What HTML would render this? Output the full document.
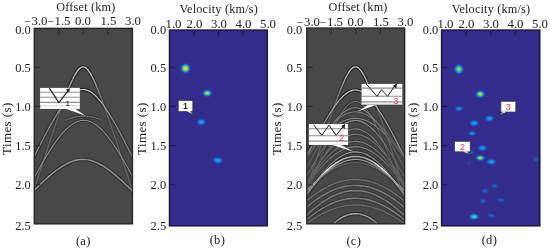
<!DOCTYPE html>
<html><head><meta charset="utf-8"><title>figure</title><style>html,body{margin:0;padding:0;background:#fff}svg{display:block}text{font-family:"Liberation Serif",serif}</style></head><body>
<svg width="550" height="249" viewBox="0 0 550 249">
<rect width="550" height="249" fill="#fff"/>
<defs>
<radialGradient id="gy"><stop offset="0" stop-color="#f8e41c" stop-opacity="1"/><stop offset="0.22" stop-color="#e8d030" stop-opacity="1"/><stop offset="0.42" stop-color="#48c890" stop-opacity="1"/><stop offset="0.62" stop-color="#1088d8" stop-opacity="0.9"/><stop offset="0.82" stop-color="#2050c0" stop-opacity="0.45"/><stop offset="1" stop-color="#332c8c" stop-opacity="0"/></radialGradient>
<radialGradient id="gy2"><stop offset="0" stop-color="#f4d820" stop-opacity="1"/><stop offset="0.16" stop-color="#e0cc38" stop-opacity="1"/><stop offset="0.36" stop-color="#40c098" stop-opacity="1"/><stop offset="0.58" stop-color="#1088d8" stop-opacity="0.9"/><stop offset="0.8" stop-color="#2050c0" stop-opacity="0.45"/><stop offset="1" stop-color="#332c8c" stop-opacity="0"/></radialGradient>
<radialGradient id="gg"><stop offset="0" stop-color="#b8c848" stop-opacity="1"/><stop offset="0.18" stop-color="#a0c858" stop-opacity="1"/><stop offset="0.38" stop-color="#38b8b0" stop-opacity="1"/><stop offset="0.58" stop-color="#1488e0" stop-opacity="0.9"/><stop offset="0.8" stop-color="#2050c0" stop-opacity="0.45"/><stop offset="1" stop-color="#332c8c" stop-opacity="0"/></radialGradient>
<radialGradient id="gy3"><stop offset="0" stop-color="#f8dc20" stop-opacity="1"/><stop offset="0.17" stop-color="#e4d034" stop-opacity="1"/><stop offset="0.34" stop-color="#50c088" stop-opacity="1"/><stop offset="0.52" stop-color="#1490e0" stop-opacity="0.95"/><stop offset="0.78" stop-color="#2058c8" stop-opacity="0.5"/><stop offset="1" stop-color="#332c8c" stop-opacity="0"/></radialGradient>
<radialGradient id="gn"><stop offset="0" stop-color="#58d8a0" stop-opacity="1"/><stop offset="0.2" stop-color="#40c8b8" stop-opacity="1"/><stop offset="0.42" stop-color="#18a0e0" stop-opacity="1"/><stop offset="0.65" stop-color="#1870d8" stop-opacity="0.8"/><stop offset="0.85" stop-color="#2848b8" stop-opacity="0.35"/><stop offset="1" stop-color="#332c8c" stop-opacity="0"/></radialGradient>
<radialGradient id="gc"><stop offset="0" stop-color="#18a8e8" stop-opacity="1"/><stop offset="0.3" stop-color="#1498e8" stop-opacity="1"/><stop offset="0.6" stop-color="#1470d8" stop-opacity="0.8"/><stop offset="0.85" stop-color="#2848b8" stop-opacity="0.35"/><stop offset="1" stop-color="#332c8c" stop-opacity="0"/></radialGradient>
<radialGradient id="gb"><stop offset="0" stop-color="#1878d8" stop-opacity="0.9"/><stop offset="0.5" stop-color="#2058c8" stop-opacity="0.6"/><stop offset="1" stop-color="#332c8c" stop-opacity="0"/></radialGradient>
<clipPath id="ca"><rect x="34.3" y="28.4" width="98.1" height="195.4"/></clipPath>
<clipPath id="cc"><rect x="306.8" y="28.1" width="97.8" height="195.7"/></clipPath>
<filter id="soft" x="-5%" y="-5%" width="110%" height="110%"><feGaussianBlur stdDeviation="0.35"/></filter>
</defs>
<rect x="34.3" y="28.4" width="98.1" height="195.4" fill="#484848"/>
<g clip-path="url(#ca)">
<g fill="none" filter="url(#soft)">
<path d="M33.1 192.9 L33.8 190.7 L34.5 188.5 L35.2 186.4 L35.9 184.2" stroke="rgb(63,63,63)" stroke-width="3.55"/>
<path d="M35.6 185.1 L36.3 182.9 L37.0 180.8 L37.8 178.6 L38.4 176.5" stroke="rgb(63,63,63)" stroke-width="3.55"/>
<path d="M38.1 177.4 L38.8 175.2 L39.5 173.1 L40.2 170.9 L40.9 168.7" stroke="rgb(63,63,63)" stroke-width="3.55"/>
<path d="M40.6 169.7 L41.3 167.5 L42.0 165.4 L42.8 163.2 L43.4 161.1" stroke="rgb(63,63,63)" stroke-width="3.55"/>
<path d="M43.1 162.0 L43.8 159.8 L44.5 157.7 L45.2 155.6 L45.9 153.4" stroke="rgb(63,63,63)" stroke-width="3.55"/>
<path d="M45.6 154.3 L46.3 152.2 L47.0 150.1 L47.8 148.0 L48.4 145.8" stroke="rgb(63,63,63)" stroke-width="3.55"/>
<path d="M48.1 146.7 L48.8 144.6 L49.5 142.5 L50.2 140.4 L50.9 138.3" stroke="rgb(63,63,63)" stroke-width="3.55"/>
<path d="M50.6 139.2 L51.3 137.1 L52.0 135.0 L52.8 132.9 L53.4 130.9" stroke="rgb(63,63,63)" stroke-width="3.55"/>
<path d="M53.1 131.7 L53.8 129.7 L54.5 127.6 L55.2 125.5 L55.9 123.5" stroke="rgb(63,63,63)" stroke-width="3.55"/>
<path d="M55.6 124.4 L56.3 122.3 L57.0 120.3 L57.8 118.2 L58.4 116.2" stroke="rgb(63,63,63)" stroke-width="3.55"/>
<path d="M58.1 117.1 L58.8 115.1 L59.5 113.1 L60.2 111.1 L60.9 109.1" stroke="rgb(63,63,63)" stroke-width="3.55"/>
<path d="M60.6 110.0 L61.3 108.0 L62.0 106.0 L62.8 104.1 L63.4 102.2" stroke="rgb(61,61,61)" stroke-width="3.55"/>
<path d="M63.1 103.0 L63.9 101.1 L64.5 99.2 L65.2 97.3 L66.0 95.5" stroke="rgb(57,57,57)" stroke-width="3.55"/>
<path d="M65.6 96.3 L66.3 94.4 L67.0 92.6 L67.8 90.8 L68.5 89.1" stroke="rgb(53,53,53)" stroke-width="3.55"/>
<path d="M68.1 89.8 L68.8 88.1 L69.5 86.4 L70.2 84.8 L71.0 83.1" stroke="rgb(48,48,48)" stroke-width="3.55"/>
<path d="M70.6 83.8 L71.3 82.2 L72.0 80.7 L72.8 79.2 L73.5 77.8" stroke="rgb(44,44,44)" stroke-width="3.55"/>
<path d="M73.1 78.4 L73.8 77.0 L74.5 75.7 L75.2 74.4 L76.0 73.2" stroke="rgb(40,40,40)" stroke-width="3.55"/>
<path d="M75.6 73.7 L76.3 72.6 L77.0 71.5 L77.8 70.5 L78.5 69.7" stroke="rgb(35,35,35)" stroke-width="3.55"/>
<path d="M78.1 70.0 L78.8 69.2 L79.5 68.5 L80.2 68.0 L81.0 67.5" stroke="rgb(34,34,34)" stroke-width="3.55"/>
<path d="M80.6 67.7 L81.3 67.3 L82.0 67.0 L82.8 66.9 L83.5 66.9" stroke="rgb(34,34,34)" stroke-width="3.55"/>
<path d="M83.1 66.9 L83.8 67.0 L84.5 67.2 L85.2 67.5 L86.0 68.0" stroke="rgb(34,34,34)" stroke-width="3.55"/>
<path d="M85.6 67.8 L86.3 68.3 L87.0 68.9 L87.8 69.7 L88.5 70.5" stroke="rgb(34,34,34)" stroke-width="3.55"/>
<path d="M88.1 70.2 L88.8 71.1 L89.5 72.1 L90.2 73.2 L91.0 74.4" stroke="rgb(36,36,36)" stroke-width="3.55"/>
<path d="M90.6 73.9 L91.3 75.1 L92.0 76.4 L92.8 77.8 L93.5 79.2" stroke="rgb(40,40,40)" stroke-width="3.55"/>
<path d="M93.1 78.6 L93.8 80.1 L94.5 81.6 L95.2 83.1 L96.0 84.8" stroke="rgb(45,45,45)" stroke-width="3.55"/>
<path d="M95.6 84.1 L96.3 85.7 L97.0 87.4 L97.8 89.1 L98.5 90.8" stroke="rgb(49,49,49)" stroke-width="3.55"/>
<path d="M98.1 90.1 L98.8 91.9 L99.5 93.7 L100.2 95.5 L101.0 97.3" stroke="rgb(53,53,53)" stroke-width="3.55"/>
<path d="M100.6 96.5 L101.3 98.4 L102.0 100.3 L102.8 102.2 L103.5 104.1" stroke="rgb(58,58,58)" stroke-width="3.55"/>
<path d="M103.1 103.3 L103.8 105.2 L104.5 107.2 L105.2 109.1 L106.0 111.1" stroke="rgb(62,62,62)" stroke-width="3.55"/>
<path d="M105.6 110.2 L106.3 112.2 L107.0 114.2 L107.8 116.2 L108.5 118.2" stroke="rgb(63,63,63)" stroke-width="3.55"/>
<path d="M108.1 117.4 L108.8 119.4 L109.5 121.4 L110.2 123.5 L111.0 125.5" stroke="rgb(63,63,63)" stroke-width="3.55"/>
<path d="M110.6 124.7 L111.3 126.7 L112.0 128.8 L112.8 130.9 L113.5 132.9" stroke="rgb(63,63,63)" stroke-width="3.55"/>
<path d="M113.1 132.0 L113.8 134.1 L114.5 136.2 L115.2 138.3 L116.0 140.4" stroke="rgb(63,63,63)" stroke-width="3.55"/>
<path d="M115.6 139.5 L116.3 141.6 L117.0 143.7 L117.8 145.8 L118.5 148.0" stroke="rgb(63,63,63)" stroke-width="3.55"/>
<path d="M118.1 147.1 L118.8 149.2 L119.5 151.3 L120.2 153.4 L121.0 155.6" stroke="rgb(63,63,63)" stroke-width="3.55"/>
<path d="M120.6 154.6 L121.3 156.8 L122.0 158.9 L122.8 161.1 L123.5 163.2" stroke="rgb(63,63,63)" stroke-width="3.55"/>
<path d="M123.1 162.3 L123.8 164.4 L124.5 166.6 L125.2 168.7 L126.0 170.9" stroke="rgb(63,63,63)" stroke-width="3.55"/>
<path d="M125.6 170.0 L126.3 172.1 L127.1 174.3 L127.8 176.5 L128.5 178.6" stroke="rgb(63,63,63)" stroke-width="3.55"/>
<path d="M128.2 177.7 L128.9 179.9 L129.6 182.0 L130.2 184.2 L131.0 186.4" stroke="rgb(63,63,63)" stroke-width="3.55"/>
<path d="M130.7 185.4 L131.4 187.6 L132.1 189.8 L132.8 192.0 L133.5 194.1" stroke="rgb(63,63,63)" stroke-width="3.55"/>
<path d="M133.2 193.2 L133.2 193.5 L133.4 193.8 L133.5 194.1 L133.6 194.4" stroke="rgb(63,63,63)" stroke-width="3.55"/>
<path d="M33.1 158.8 L34.2 156.6 L35.3 154.4 L36.4 152.3 L37.4 150.1" stroke="rgb(52,52,52)" stroke-width="3.45"/>
<path d="M37.1 150.7 L38.2 148.6 L39.3 146.5 L40.4 144.4 L41.4 142.3" stroke="rgb(52,52,52)" stroke-width="3.45"/>
<path d="M41.1 142.8 L42.2 140.8 L43.3 138.7 L44.4 136.6 L45.4 134.6" stroke="rgb(52,52,52)" stroke-width="3.45"/>
<path d="M45.1 135.2 L46.2 133.2 L47.3 131.2 L48.4 129.2 L49.4 127.2" stroke="rgb(52,52,52)" stroke-width="3.45"/>
<path d="M49.1 127.8 L50.2 125.8 L51.3 123.9 L52.4 122.0 L53.4 120.2" stroke="rgb(52,52,52)" stroke-width="3.45"/>
<path d="M53.1 120.7 L54.2 118.8 L55.3 117.0 L56.4 115.3 L57.4 113.5" stroke="rgb(50,50,50)" stroke-width="3.45"/>
<path d="M57.1 114.0 L58.2 112.3 L59.3 110.6 L60.4 109.0 L61.4 107.4" stroke="rgb(46,46,46)" stroke-width="3.45"/>
<path d="M61.1 107.8 L62.2 106.3 L63.3 104.8 L64.4 103.3 L65.5 101.9" stroke="rgb(42,42,42)" stroke-width="3.45"/>
<path d="M65.1 102.3 L66.2 100.9 L67.3 99.6 L68.4 98.4 L69.5 97.2" stroke="rgb(38,38,38)" stroke-width="3.45"/>
<path d="M69.1 97.5 L70.2 96.4 L71.3 95.4 L72.4 94.4 L73.5 93.5" stroke="rgb(34,34,34)" stroke-width="3.45"/>
<path d="M73.1 93.7 L74.2 92.9 L75.3 92.1 L76.4 91.5 L77.5 90.9" stroke="rgb(34,34,34)" stroke-width="3.45"/>
<path d="M77.1 91.1 L78.2 90.6 L79.3 90.2 L80.4 89.8 L81.5 89.6" stroke="rgb(34,34,34)" stroke-width="3.45"/>
<path d="M81.1 89.7 L82.2 89.5 L83.3 89.5 L84.4 89.6 L85.5 89.7" stroke="rgb(34,34,34)" stroke-width="3.45"/>
<path d="M85.1 89.7 L86.2 89.9 L87.3 90.2 L88.4 90.7 L89.5 91.2" stroke="rgb(34,34,34)" stroke-width="3.45"/>
<path d="M89.1 91.0 L90.2 91.6 L91.3 92.3 L92.4 93.0 L93.5 93.9" stroke="rgb(34,34,34)" stroke-width="3.45"/>
<path d="M93.1 93.7 L94.2 94.6 L95.3 95.5 L96.4 96.6 L97.5 97.7" stroke="rgb(34,34,34)" stroke-width="3.45"/>
<path d="M97.1 97.4 L98.2 98.6 L99.3 99.9 L100.4 101.2 L101.5 102.5" stroke="rgb(38,38,38)" stroke-width="3.45"/>
<path d="M101.1 102.2 L102.2 103.6 L103.3 105.0 L104.4 106.6 L105.5 108.1" stroke="rgb(42,42,42)" stroke-width="3.45"/>
<path d="M105.1 107.7 L106.2 109.3 L107.3 110.9 L108.4 112.6 L109.5 114.3" stroke="rgb(46,46,46)" stroke-width="3.45"/>
<path d="M109.1 113.8 L110.2 115.6 L111.3 117.4 L112.4 119.2 L113.5 121.0" stroke="rgb(50,50,50)" stroke-width="3.45"/>
<path d="M113.1 120.5 L114.2 122.4 L115.3 124.3 L116.4 126.2 L117.5 128.1" stroke="rgb(52,52,52)" stroke-width="3.45"/>
<path d="M117.1 127.6 L118.2 129.5 L119.3 131.5 L120.4 133.5 L121.5 135.6" stroke="rgb(52,52,52)" stroke-width="3.45"/>
<path d="M121.1 135.0 L122.2 137.0 L123.3 139.1 L124.4 141.1 L125.5 143.2" stroke="rgb(52,52,52)" stroke-width="3.45"/>
<path d="M125.1 142.7 L126.2 144.7 L127.3 146.9 L128.4 149.0 L129.5 151.1" stroke="rgb(52,52,52)" stroke-width="3.45"/>
<path d="M129.2 150.5 L130.2 152.7 L131.3 154.8 L132.4 157.0 L133.5 159.2" stroke="rgb(52,52,52)" stroke-width="3.45"/>
<path d="M133.2 158.6 L133.2 158.8 L133.4 159.0 L133.5 159.2 L133.6 159.4" stroke="rgb(52,52,52)" stroke-width="3.45"/>
<path d="M63.1 121.4 L64.0 121.0 L64.8 120.6 L65.6 120.2 L66.5 119.8" stroke="rgb(66,66,66)" stroke-width="3.10"/>
<path d="M66.1 120.0 L67.0 119.6 L67.8 119.3 L68.6 119.0 L69.5 118.7" stroke="rgb(57,57,57)" stroke-width="3.10"/>
<path d="M69.1 118.8 L70.0 118.5 L70.8 118.2 L71.6 118.0 L72.5 117.7" stroke="rgb(51,51,51)" stroke-width="3.10"/>
<path d="M72.1 117.8 L73.0 117.6 L73.8 117.3 L74.6 117.2 L75.5 117.0" stroke="rgb(51,51,51)" stroke-width="3.10"/>
<path d="M75.1 117.0 L76.0 116.9 L76.8 116.7 L77.6 116.6 L78.5 116.5" stroke="rgb(51,51,51)" stroke-width="3.10"/>
<path d="M78.1 116.5 L79.0 116.4 L79.8 116.3 L80.6 116.2 L81.5 116.2" stroke="rgb(51,51,51)" stroke-width="3.10"/>
<path d="M81.1 116.2 L82.0 116.1 L82.8 116.1 L83.6 116.1 L84.5 116.1" stroke="rgb(51,51,51)" stroke-width="3.10"/>
<path d="M84.1 116.1 L85.0 116.1 L85.8 116.2 L86.6 116.2 L87.5 116.3" stroke="rgb(51,51,51)" stroke-width="3.10"/>
<path d="M87.1 116.3 L88.0 116.3 L88.8 116.4 L89.6 116.5 L90.5 116.7" stroke="rgb(51,51,51)" stroke-width="3.10"/>
<path d="M90.1 116.6 L91.0 116.8 L91.8 116.9 L92.6 117.1 L93.5 117.3" stroke="rgb(51,51,51)" stroke-width="3.10"/>
<path d="M93.1 117.2 L94.0 117.4 L94.8 117.7 L95.6 117.9 L96.5 118.2" stroke="rgb(51,51,51)" stroke-width="3.10"/>
<path d="M96.1 118.1 L97.0 118.3 L97.8 118.6 L98.6 118.9 L99.5 119.2" stroke="rgb(51,51,51)" stroke-width="3.10"/>
<path d="M99.1 119.1 L100.0 119.4 L100.8 119.8 L101.6 120.1 L102.5 120.5" stroke="rgb(60,60,60)" stroke-width="3.10"/>
<path d="M102.1 120.4 L103.0 120.7 L103.8 121.1 L104.6 121.6 L105.5 122.0" stroke="rgb(70,70,70)" stroke-width="3.10"/>
<path d="M33.3 179.5 L35.8 174.9 L38.3 170.3 L40.8 165.8 L43.3 161.4 L45.8 157.2 L48.3 153.1 L50.8 149.1 L53.3 145.4 L55.8 141.8 L58.3 138.4 L60.8 135.2 L63.3 132.3 L65.8 129.7 L68.3 127.3 L70.8 125.3 L73.3 123.6 L75.8 122.2 L78.3 121.2 L80.8 120.6 L83.3 120.3 L85.9 120.4 L88.4 121.0 L90.9 121.9 L93.4 123.1 L95.9 124.8 L98.4 126.7 L100.9 129.0 L103.4 131.5 L105.9 134.4 L108.4 137.5 L110.9 140.8 L113.4 144.3 L115.9 148.1 L118.4 152.0 L120.9 156.0 L123.4 160.2 L125.9 164.6 L128.4 169.0 L130.9 173.6 L133.4 178.2" stroke="rgb(51,51,51)" stroke-width="3.35"/>
<path d="M33.3 191.3 L35.8 188.7 L38.3 186.2 L40.8 183.8 L43.3 181.4 L45.8 179.2 L48.3 176.9 L50.8 174.8 L53.3 172.8 L55.8 170.8 L58.3 169.0 L60.8 167.3 L63.3 165.7 L65.8 164.3 L68.3 163.0 L70.8 161.9 L73.3 161.0 L75.8 160.3 L78.3 159.8 L80.8 159.5 L83.3 159.4 L85.9 159.6 L88.4 159.9 L90.9 160.5 L93.4 161.3 L95.9 162.3 L98.4 163.4 L100.9 164.8 L103.4 166.2 L105.9 167.9 L108.4 169.6 L110.9 171.5 L113.4 173.5 L115.9 175.6 L118.4 177.7 L120.9 180.0 L123.4 182.3 L125.9 184.7 L128.4 187.1 L130.9 189.6 L133.4 192.3" stroke="rgb(49,49,49)" stroke-width="3.70"/>
<path d="M33.1 192.9 L33.8 190.7 L34.5 188.5 L35.2 186.4 L35.9 184.2" stroke="rgb(101,101,101)" stroke-width="1.25"/>
<path d="M35.6 185.1 L36.3 182.9 L37.0 180.8 L37.8 178.6 L38.4 176.5" stroke="rgb(101,101,101)" stroke-width="1.25"/>
<path d="M38.1 177.4 L38.8 175.2 L39.5 173.1 L40.2 170.9 L40.9 168.7" stroke="rgb(101,101,101)" stroke-width="1.25"/>
<path d="M40.6 169.7 L41.3 167.5 L42.0 165.4 L42.8 163.2 L43.4 161.1" stroke="rgb(101,101,101)" stroke-width="1.25"/>
<path d="M43.1 162.0 L43.8 159.8 L44.5 157.7 L45.2 155.6 L45.9 153.4" stroke="rgb(101,101,101)" stroke-width="1.25"/>
<path d="M45.6 154.3 L46.3 152.2 L47.0 150.1 L47.8 148.0 L48.4 145.8" stroke="rgb(101,101,101)" stroke-width="1.25"/>
<path d="M48.1 146.7 L48.8 144.6 L49.5 142.5 L50.2 140.4 L50.9 138.3" stroke="rgb(101,101,101)" stroke-width="1.25"/>
<path d="M50.6 139.2 L51.3 137.1 L52.0 135.0 L52.8 132.9 L53.4 130.9" stroke="rgb(101,101,101)" stroke-width="1.25"/>
<path d="M53.1 131.7 L53.8 129.7 L54.5 127.6 L55.2 125.5 L55.9 123.5" stroke="rgb(101,101,101)" stroke-width="1.25"/>
<path d="M55.6 124.4 L56.3 122.3 L57.0 120.3 L57.8 118.2 L58.4 116.2" stroke="rgb(101,101,101)" stroke-width="1.25"/>
<path d="M58.1 117.1 L58.8 115.1 L59.5 113.1 L60.2 111.1 L60.9 109.1" stroke="rgb(101,101,101)" stroke-width="1.25"/>
<path d="M60.6 110.0 L61.3 108.0 L62.0 106.0 L62.8 104.1 L63.4 102.2" stroke="rgb(108,108,108)" stroke-width="1.25"/>
<path d="M63.1 103.0 L63.9 101.1 L64.5 99.2 L65.2 97.3 L66.0 95.5" stroke="rgb(124,124,124)" stroke-width="1.25"/>
<path d="M65.6 96.3 L66.3 94.4 L67.0 92.6 L67.8 90.8 L68.5 89.1" stroke="rgb(139,139,139)" stroke-width="1.25"/>
<path d="M68.1 89.8 L68.8 88.1 L69.5 86.4 L70.2 84.8 L71.0 83.1" stroke="rgb(155,155,155)" stroke-width="1.25"/>
<path d="M70.6 83.8 L71.3 82.2 L72.0 80.7 L72.8 79.2 L73.5 77.8" stroke="rgb(170,170,170)" stroke-width="1.25"/>
<path d="M73.1 78.4 L73.8 77.0 L74.5 75.7 L75.2 74.4 L76.0 73.2" stroke="rgb(186,186,186)" stroke-width="1.25"/>
<path d="M75.6 73.7 L76.3 72.6 L77.0 71.5 L77.8 70.5 L78.5 69.7" stroke="rgb(201,201,201)" stroke-width="1.25"/>
<path d="M78.1 70.0 L78.8 69.2 L79.5 68.5 L80.2 68.0 L81.0 67.5" stroke="rgb(208,208,208)" stroke-width="1.25"/>
<path d="M80.6 67.7 L81.3 67.3 L82.0 67.0 L82.8 66.9 L83.5 66.9" stroke="rgb(208,208,208)" stroke-width="1.25"/>
<path d="M83.1 66.9 L83.8 67.0 L84.5 67.2 L85.2 67.5 L86.0 68.0" stroke="rgb(208,208,208)" stroke-width="1.25"/>
<path d="M85.6 67.8 L86.3 68.3 L87.0 68.9 L87.8 69.7 L88.5 70.5" stroke="rgb(208,208,208)" stroke-width="1.25"/>
<path d="M88.1 70.2 L88.8 71.1 L89.5 72.1 L90.2 73.2 L91.0 74.4" stroke="rgb(199,199,199)" stroke-width="1.25"/>
<path d="M90.6 73.9 L91.3 75.1 L92.0 76.4 L92.8 77.8 L93.5 79.2" stroke="rgb(183,183,183)" stroke-width="1.25"/>
<path d="M93.1 78.6 L93.8 80.1 L94.5 81.6 L95.2 83.1 L96.0 84.8" stroke="rgb(168,168,168)" stroke-width="1.25"/>
<path d="M95.6 84.1 L96.3 85.7 L97.0 87.4 L97.8 89.1 L98.5 90.8" stroke="rgb(152,152,152)" stroke-width="1.25"/>
<path d="M98.1 90.1 L98.8 91.9 L99.5 93.7 L100.2 95.5 L101.0 97.3" stroke="rgb(137,137,137)" stroke-width="1.25"/>
<path d="M100.6 96.5 L101.3 98.4 L102.0 100.3 L102.8 102.2 L103.5 104.1" stroke="rgb(121,121,121)" stroke-width="1.25"/>
<path d="M103.1 103.3 L103.8 105.2 L104.5 107.2 L105.2 109.1 L106.0 111.1" stroke="rgb(106,106,106)" stroke-width="1.25"/>
<path d="M105.6 110.2 L106.3 112.2 L107.0 114.2 L107.8 116.2 L108.5 118.2" stroke="rgb(101,101,101)" stroke-width="1.25"/>
<path d="M108.1 117.4 L108.8 119.4 L109.5 121.4 L110.2 123.5 L111.0 125.5" stroke="rgb(101,101,101)" stroke-width="1.25"/>
<path d="M110.6 124.7 L111.3 126.7 L112.0 128.8 L112.8 130.9 L113.5 132.9" stroke="rgb(101,101,101)" stroke-width="1.25"/>
<path d="M113.1 132.0 L113.8 134.1 L114.5 136.2 L115.2 138.3 L116.0 140.4" stroke="rgb(101,101,101)" stroke-width="1.25"/>
<path d="M115.6 139.5 L116.3 141.6 L117.0 143.7 L117.8 145.8 L118.5 148.0" stroke="rgb(101,101,101)" stroke-width="1.25"/>
<path d="M118.1 147.1 L118.8 149.2 L119.5 151.3 L120.2 153.4 L121.0 155.6" stroke="rgb(101,101,101)" stroke-width="1.25"/>
<path d="M120.6 154.6 L121.3 156.8 L122.0 158.9 L122.8 161.1 L123.5 163.2" stroke="rgb(101,101,101)" stroke-width="1.25"/>
<path d="M123.1 162.3 L123.8 164.4 L124.5 166.6 L125.2 168.7 L126.0 170.9" stroke="rgb(101,101,101)" stroke-width="1.25"/>
<path d="M125.6 170.0 L126.3 172.1 L127.1 174.3 L127.8 176.5 L128.5 178.6" stroke="rgb(101,101,101)" stroke-width="1.25"/>
<path d="M128.2 177.7 L128.9 179.9 L129.6 182.0 L130.2 184.2 L131.0 186.4" stroke="rgb(101,101,101)" stroke-width="1.25"/>
<path d="M130.7 185.4 L131.4 187.6 L132.1 189.8 L132.8 192.0 L133.5 194.1" stroke="rgb(101,101,101)" stroke-width="1.25"/>
<path d="M133.2 193.2 L133.2 193.5 L133.4 193.8 L133.5 194.1 L133.6 194.4" stroke="rgb(101,101,101)" stroke-width="1.25"/>
<path d="M33.1 158.8 L34.2 156.6 L35.3 154.4 L36.4 152.3 L37.4 150.1" stroke="rgb(142,142,142)" stroke-width="1.15"/>
<path d="M37.1 150.7 L38.2 148.6 L39.3 146.5 L40.4 144.4 L41.4 142.3" stroke="rgb(142,142,142)" stroke-width="1.15"/>
<path d="M41.1 142.8 L42.2 140.8 L43.3 138.7 L44.4 136.6 L45.4 134.6" stroke="rgb(142,142,142)" stroke-width="1.15"/>
<path d="M45.1 135.2 L46.2 133.2 L47.3 131.2 L48.4 129.2 L49.4 127.2" stroke="rgb(142,142,142)" stroke-width="1.15"/>
<path d="M49.1 127.8 L50.2 125.8 L51.3 123.9 L52.4 122.0 L53.4 120.2" stroke="rgb(142,142,142)" stroke-width="1.15"/>
<path d="M53.1 120.7 L54.2 118.8 L55.3 117.0 L56.4 115.3 L57.4 113.5" stroke="rgb(147,147,147)" stroke-width="1.15"/>
<path d="M57.1 114.0 L58.2 112.3 L59.3 110.6 L60.4 109.0 L61.4 107.4" stroke="rgb(163,163,163)" stroke-width="1.15"/>
<path d="M61.1 107.8 L62.2 106.3 L63.3 104.8 L64.4 103.3 L65.5 101.9" stroke="rgb(178,178,178)" stroke-width="1.15"/>
<path d="M65.1 102.3 L66.2 100.9 L67.3 99.6 L68.4 98.4 L69.5 97.2" stroke="rgb(193,193,193)" stroke-width="1.15"/>
<path d="M69.1 97.5 L70.2 96.4 L71.3 95.4 L72.4 94.4 L73.5 93.5" stroke="rgb(208,208,208)" stroke-width="1.15"/>
<path d="M73.1 93.7 L74.2 92.9 L75.3 92.1 L76.4 91.5 L77.5 90.9" stroke="rgb(208,208,208)" stroke-width="1.15"/>
<path d="M77.1 91.1 L78.2 90.6 L79.3 90.2 L80.4 89.8 L81.5 89.6" stroke="rgb(208,208,208)" stroke-width="1.15"/>
<path d="M81.1 89.7 L82.2 89.5 L83.3 89.5 L84.4 89.6 L85.5 89.7" stroke="rgb(208,208,208)" stroke-width="1.15"/>
<path d="M85.1 89.7 L86.2 89.9 L87.3 90.2 L88.4 90.7 L89.5 91.2" stroke="rgb(208,208,208)" stroke-width="1.15"/>
<path d="M89.1 91.0 L90.2 91.6 L91.3 92.3 L92.4 93.0 L93.5 93.9" stroke="rgb(208,208,208)" stroke-width="1.15"/>
<path d="M93.1 93.7 L94.2 94.6 L95.3 95.5 L96.4 96.6 L97.5 97.7" stroke="rgb(207,207,207)" stroke-width="1.15"/>
<path d="M97.1 97.4 L98.2 98.6 L99.3 99.9 L100.4 101.2 L101.5 102.5" stroke="rgb(192,192,192)" stroke-width="1.15"/>
<path d="M101.1 102.2 L102.2 103.6 L103.3 105.0 L104.4 106.6 L105.5 108.1" stroke="rgb(177,177,177)" stroke-width="1.15"/>
<path d="M105.1 107.7 L106.2 109.3 L107.3 110.9 L108.4 112.6 L109.5 114.3" stroke="rgb(162,162,162)" stroke-width="1.15"/>
<path d="M109.1 113.8 L110.2 115.6 L111.3 117.4 L112.4 119.2 L113.5 121.0" stroke="rgb(147,147,147)" stroke-width="1.15"/>
<path d="M113.1 120.5 L114.2 122.4 L115.3 124.3 L116.4 126.2 L117.5 128.1" stroke="rgb(142,142,142)" stroke-width="1.15"/>
<path d="M117.1 127.6 L118.2 129.5 L119.3 131.5 L120.4 133.5 L121.5 135.6" stroke="rgb(142,142,142)" stroke-width="1.15"/>
<path d="M121.1 135.0 L122.2 137.0 L123.3 139.1 L124.4 141.1 L125.5 143.2" stroke="rgb(142,142,142)" stroke-width="1.15"/>
<path d="M125.1 142.7 L126.2 144.7 L127.3 146.9 L128.4 149.0 L129.5 151.1" stroke="rgb(142,142,142)" stroke-width="1.15"/>
<path d="M129.2 150.5 L130.2 152.7 L131.3 154.8 L132.4 157.0 L133.5 159.2" stroke="rgb(142,142,142)" stroke-width="1.15"/>
<path d="M133.2 158.6 L133.2 158.8 L133.4 159.0 L133.5 159.2 L133.6 159.4" stroke="rgb(142,142,142)" stroke-width="1.15"/>
<path d="M63.1 121.4 L64.0 121.0 L64.8 120.6 L65.6 120.2 L66.5 119.8" stroke="rgb(91,91,91)" stroke-width="0.80"/>
<path d="M66.1 120.0 L67.0 119.6 L67.8 119.3 L68.6 119.0 L69.5 118.7" stroke="rgb(125,125,125)" stroke-width="0.80"/>
<path d="M69.1 118.8 L70.0 118.5 L70.8 118.2 L71.6 118.0 L72.5 117.7" stroke="rgb(146,146,146)" stroke-width="0.80"/>
<path d="M72.1 117.8 L73.0 117.6 L73.8 117.3 L74.6 117.2 L75.5 117.0" stroke="rgb(146,146,146)" stroke-width="0.80"/>
<path d="M75.1 117.0 L76.0 116.9 L76.8 116.7 L77.6 116.6 L78.5 116.5" stroke="rgb(146,146,146)" stroke-width="0.80"/>
<path d="M78.1 116.5 L79.0 116.4 L79.8 116.3 L80.6 116.2 L81.5 116.2" stroke="rgb(146,146,146)" stroke-width="0.80"/>
<path d="M81.1 116.2 L82.0 116.1 L82.8 116.1 L83.6 116.1 L84.5 116.1" stroke="rgb(146,146,146)" stroke-width="0.80"/>
<path d="M84.1 116.1 L85.0 116.1 L85.8 116.2 L86.6 116.2 L87.5 116.3" stroke="rgb(146,146,146)" stroke-width="0.80"/>
<path d="M87.1 116.3 L88.0 116.3 L88.8 116.4 L89.6 116.5 L90.5 116.7" stroke="rgb(146,146,146)" stroke-width="0.80"/>
<path d="M90.1 116.6 L91.0 116.8 L91.8 116.9 L92.6 117.1 L93.5 117.3" stroke="rgb(146,146,146)" stroke-width="0.80"/>
<path d="M93.1 117.2 L94.0 117.4 L94.8 117.7 L95.6 117.9 L96.5 118.2" stroke="rgb(146,146,146)" stroke-width="0.80"/>
<path d="M96.1 118.1 L97.0 118.3 L97.8 118.6 L98.6 118.9 L99.5 119.2" stroke="rgb(145,145,145)" stroke-width="0.80"/>
<path d="M99.1 119.1 L100.0 119.4 L100.8 119.8 L101.6 120.1 L102.5 120.5" stroke="rgb(111,111,111)" stroke-width="0.80"/>
<path d="M102.1 120.4 L103.0 120.7 L103.8 121.1 L104.6 121.6 L105.5 122.0" stroke="rgb(77,77,77)" stroke-width="0.80"/>
<path d="M33.3 179.5 L35.8 174.9 L38.3 170.3 L40.8 165.8 L43.3 161.4 L45.8 157.2 L48.3 153.1 L50.8 149.1 L53.3 145.4 L55.8 141.8 L58.3 138.4 L60.8 135.2 L63.3 132.3 L65.8 129.7 L68.3 127.3 L70.8 125.3 L73.3 123.6 L75.8 122.2 L78.3 121.2 L80.8 120.6 L83.3 120.3 L85.9 120.4 L88.4 121.0 L90.9 121.9 L93.4 123.1 L95.9 124.8 L98.4 126.7 L100.9 129.0 L103.4 131.5 L105.9 134.4 L108.4 137.5 L110.9 140.8 L113.4 144.3 L115.9 148.1 L118.4 152.0 L120.9 156.0 L123.4 160.2 L125.9 164.6 L128.4 169.0 L130.9 173.6 L133.4 178.2" stroke="rgb(146,146,146)" stroke-width="1.05"/>
<path d="M33.3 191.3 L35.8 188.7 L38.3 186.2 L40.8 183.8 L43.3 181.4 L45.8 179.2 L48.3 176.9 L50.8 174.8 L53.3 172.8 L55.8 170.8 L58.3 169.0 L60.8 167.3 L63.3 165.7 L65.8 164.3 L68.3 163.0 L70.8 161.9 L73.3 161.0 L75.8 160.3 L78.3 159.8 L80.8 159.5 L83.3 159.4 L85.9 159.6 L88.4 159.9 L90.9 160.5 L93.4 161.3 L95.9 162.3 L98.4 163.4 L100.9 164.8 L103.4 166.2 L105.9 167.9 L108.4 169.6 L110.9 171.5 L113.4 173.5 L115.9 175.6 L118.4 177.7 L120.9 180.0 L123.4 182.3 L125.9 184.7 L128.4 187.1 L130.9 189.6 L133.4 192.3" stroke="rgb(150,150,150)" stroke-width="1.40"/>
</g>
</g>
<polygon points="64,108 74,108 85.5,115.7" fill="#fff"/>
<rect x="40.1" y="87.9" width="39.7" height="21" fill="#fff"/>
<line x1="40.1" x2="79.8" y1="92.3" y2="92.3" stroke="#909090" stroke-width="1.1"/>
<line x1="40.1" x2="79.8" y1="97.2" y2="97.2" stroke="#909090" stroke-width="1.1"/>
<line x1="40.1" x2="79.8" y1="102.4" y2="102.4" stroke="#909090" stroke-width="1.1"/>
<line x1="40.1" x2="79.8" y1="105.8" y2="105.8" stroke="#d0d0d0" stroke-width="1.1"/>
<path d="M49.3 88.1 L58.9 102.6 L68.2 90.6" fill="none" stroke="#1a1a1a" stroke-width="1.1"/>
<path d="M69.9 87.9 L66.0 90.0 L69.2 92.3 Z" fill="#1a1a1a"/>
<text x="67.6" y="105.9" font-size="7" font-weight="bold" text-anchor="middle" fill="#333" style="font-family:'Liberation Sans',sans-serif">1</text>
<rect x="34.3" y="28.4" width="98.1" height="195.4" fill="none" stroke="#2e2a2c" stroke-width="1.5"/>
<line x1="58.8" y1="28.4" x2="58.8" y2="34.4" stroke="#2e2a2c" stroke-width="1.1"/>
<line x1="83.3" y1="28.4" x2="83.3" y2="34.4" stroke="#2e2a2c" stroke-width="1.1"/>
<line x1="107.9" y1="28.4" x2="107.9" y2="34.4" stroke="#2e2a2c" stroke-width="1.1"/>
<line x1="34.3" y1="67.5" x2="40.3" y2="67.5" stroke="#2e2a2c" stroke-width="1.1"/>
<line x1="34.3" y1="106.4" x2="40.3" y2="106.4" stroke="#2e2a2c" stroke-width="1.1"/>
<line x1="34.3" y1="145.6" x2="40.3" y2="145.6" stroke="#2e2a2c" stroke-width="1.1"/>
<line x1="34.3" y1="184.8" x2="40.3" y2="184.8" stroke="#2e2a2c" stroke-width="1.1"/>
<text x="30.7" y="33.8" font-size="13.2" text-anchor="end" fill="#222"  textLength="15.5" lengthAdjust="spacingAndGlyphs">0.0</text>
<text x="30.7" y="71.8" font-size="13.2" text-anchor="end" fill="#222"  textLength="15.5" lengthAdjust="spacingAndGlyphs">0.5</text>
<text x="30.7" y="110.8" font-size="13.2" text-anchor="end" fill="#222"  textLength="15.5" lengthAdjust="spacingAndGlyphs">1.0</text>
<text x="30.7" y="149.6" font-size="13.2" text-anchor="end" fill="#222"  textLength="15.5" lengthAdjust="spacingAndGlyphs">1.5</text>
<text x="30.7" y="188.7" font-size="13.2" text-anchor="end" fill="#222"  textLength="15.5" lengthAdjust="spacingAndGlyphs">2.0</text>
<text x="30.7" y="230.2" font-size="13.2" text-anchor="end" fill="#222"  textLength="15.5" lengthAdjust="spacingAndGlyphs">2.5</text>
<text transform="translate(11.2 128.7) rotate(-90)" font-size="13" letter-spacing="0.4" text-anchor="middle" fill="#222" >Times (s)</text>
<text x="35.9" y="25.1" font-size="12.8" text-anchor="middle" fill="#222"  ><tspan font-size="11.5" dy="-0.2">−</tspan><tspan dy="0.2" dx="0.7">3.0</tspan></text>
<text x="58.9" y="25.1" font-size="12.8" text-anchor="middle" fill="#222"  ><tspan font-size="11.5" dy="-0.2">−</tspan><tspan dy="0.2" dx="0.7">1.5</tspan></text>
<text x="83.0" y="25.1" font-size="12.8" text-anchor="middle" fill="#222"  >0.0</text>
<text x="108.4" y="25.1" font-size="12.8" text-anchor="middle" fill="#222"  >1.5</text>
<text x="133.0" y="25.1" font-size="12.8" text-anchor="middle" fill="#222"  >3.0</text>
<text x="85.9" y="11.4" font-size="12.2" text-anchor="middle" fill="#222"  letter-spacing="0.2">Offset (km)</text>
<text x="83.3" y="245.1" font-size="12.5" text-anchor="middle" fill="#222"  letter-spacing="0.3">(a)</text>
<rect x="169.5" y="30.1" width="97.8" height="195.7" fill="#332c8c"/>
<ellipse cx="185.5" cy="68.3" rx="6.2" ry="6.0" fill="url(#gy)" opacity="1.00"/>
<ellipse cx="207.2" cy="93.2" rx="6.2" ry="4.4" fill="url(#gy2)" opacity="1.00"/>
<ellipse cx="201.2" cy="122.1" rx="5.6" ry="3.9" fill="url(#gc)" opacity="1.00"/>
<ellipse cx="217.8" cy="160.4" rx="6.2" ry="3.9" fill="url(#gc)" opacity="1.00" transform="rotate(8 217.8 160.4)"/>
<path d="M188.9 111.5 L197.6 117.9" stroke="#333" stroke-width="0.9" fill="none"/>
<polygon points="187.3,111.5 190.6,111.5 192.8,114.4" fill="#fff" stroke="#444" stroke-width="0.5"/>
<rect x="178.2" y="100.5" width="14.6" height="11.0" fill="#fff" stroke="#3a3a3a" stroke-width="0.7"/>
<line x1="187.7" y1="111.5" x2="190.2" y2="111.5" stroke="#fff" stroke-width="1.2"/>
<text x="185.5" y="109.1" font-size="8.6" font-weight="bold" text-anchor="middle" fill="#333" style="font-family:'Liberation Sans',sans-serif">1</text>
<rect x="169.5" y="30.1" width="97.8" height="195.7" fill="none" stroke="#1c1836" stroke-width="1.5"/>
<line x1="193.9" y1="30.1" x2="193.9" y2="35.7" stroke="#1c1836" stroke-width="1.0"/>
<line x1="218.4" y1="30.1" x2="218.4" y2="35.7" stroke="#1c1836" stroke-width="1.0"/>
<line x1="242.9" y1="30.1" x2="242.9" y2="35.7" stroke="#1c1836" stroke-width="1.0"/>
<line x1="169.5" y1="67.5" x2="175.1" y2="67.5" stroke="#1c1836" stroke-width="1.0"/>
<line x1="169.5" y1="106.4" x2="175.1" y2="106.4" stroke="#1c1836" stroke-width="1.0"/>
<line x1="169.5" y1="145.6" x2="175.1" y2="145.6" stroke="#1c1836" stroke-width="1.0"/>
<line x1="169.5" y1="184.8" x2="175.1" y2="184.8" stroke="#1c1836" stroke-width="1.0"/>
<text x="166.1" y="33.8" font-size="13.2" text-anchor="end" fill="#222"  textLength="15.5" lengthAdjust="spacingAndGlyphs">0.0</text>
<text x="166.1" y="71.8" font-size="13.2" text-anchor="end" fill="#222"  textLength="15.5" lengthAdjust="spacingAndGlyphs">0.5</text>
<text x="166.1" y="110.8" font-size="13.2" text-anchor="end" fill="#222"  textLength="15.5" lengthAdjust="spacingAndGlyphs">1.0</text>
<text x="166.1" y="149.6" font-size="13.2" text-anchor="end" fill="#222"  textLength="15.5" lengthAdjust="spacingAndGlyphs">1.5</text>
<text x="166.1" y="188.7" font-size="13.2" text-anchor="end" fill="#222"  textLength="15.5" lengthAdjust="spacingAndGlyphs">2.0</text>
<text x="166.1" y="230.2" font-size="13.2" text-anchor="end" fill="#222"  textLength="15.5" lengthAdjust="spacingAndGlyphs">2.5</text>
<text transform="translate(146.4 128.7) rotate(-90)" font-size="13" letter-spacing="0.4" text-anchor="middle" fill="#222" >Times (s)</text>
<text x="173.5" y="28.0" font-size="12.8" text-anchor="middle" fill="#222"  >1.0</text>
<text x="194.5" y="28.0" font-size="12.8" text-anchor="middle" fill="#222"  >2.0</text>
<text x="219.0" y="28.0" font-size="12.8" text-anchor="middle" fill="#222"  >3.0</text>
<text x="243.5" y="28.0" font-size="12.8" text-anchor="middle" fill="#222"  >4.0</text>
<text x="268.0" y="28.0" font-size="12.8" text-anchor="middle" fill="#222"  >5.0</text>
<text x="218.7" y="13.0" font-size="12.2" text-anchor="middle" fill="#222"  letter-spacing="0.2">Velocity (km/s)</text>
<text x="217.4" y="243.7" font-size="12.5" text-anchor="middle" fill="#222"  letter-spacing="0.3">(b)</text>
<rect x="306.8" y="28.1" width="97.8" height="195.7" fill="#484848"/>
<g clip-path="url(#cc)">
<g fill="none" filter="url(#soft)">
<path d="M305.7 192.2 L306.4 190.1 L307.1 187.9 L307.8 185.7 L308.4 183.5" stroke="rgb(64,64,64)" stroke-width="3.55"/>
<path d="M308.2 184.5 L308.9 182.3 L309.6 180.1 L310.2 178.0 L310.9 175.8" stroke="rgb(64,64,64)" stroke-width="3.55"/>
<path d="M310.7 176.7 L311.4 174.6 L312.1 172.4 L312.8 170.3 L313.4 168.1" stroke="rgb(64,64,64)" stroke-width="3.55"/>
<path d="M313.2 169.0 L313.9 166.9 L314.6 164.7 L315.2 162.6 L315.9 160.4" stroke="rgb(64,64,64)" stroke-width="3.55"/>
<path d="M315.7 161.3 L316.4 159.2 L317.1 157.1 L317.8 154.9 L318.4 152.8" stroke="rgb(64,64,64)" stroke-width="3.55"/>
<path d="M318.2 153.7 L318.9 151.6 L319.6 149.4 L320.2 147.3 L320.9 145.2" stroke="rgb(64,64,64)" stroke-width="3.55"/>
<path d="M320.7 146.1 L321.4 144.0 L322.1 141.9 L322.8 139.8 L323.4 137.7" stroke="rgb(64,64,64)" stroke-width="3.55"/>
<path d="M323.2 138.6 L323.9 136.5 L324.6 134.4 L325.2 132.3 L325.9 130.2" stroke="rgb(64,64,64)" stroke-width="3.55"/>
<path d="M325.7 131.1 L326.4 129.0 L327.1 127.0 L327.8 124.9 L328.4 122.9" stroke="rgb(64,64,64)" stroke-width="3.55"/>
<path d="M328.2 123.7 L328.9 121.7 L329.6 119.7 L330.2 117.6 L330.9 115.6" stroke="rgb(64,64,64)" stroke-width="3.55"/>
<path d="M330.7 116.5 L331.4 114.5 L332.1 112.5 L332.8 110.5 L333.4 108.5" stroke="rgb(64,64,64)" stroke-width="3.55"/>
<path d="M333.2 109.3 L333.9 107.4 L334.6 105.4 L335.2 103.5 L335.9 101.6" stroke="rgb(64,64,64)" stroke-width="3.55"/>
<path d="M335.7 102.4 L336.4 100.5 L337.1 98.6 L337.8 96.7 L338.4 94.9" stroke="rgb(59,59,59)" stroke-width="3.55"/>
<path d="M338.2 95.7 L338.9 93.9 L339.6 92.1 L340.2 90.3 L340.9 88.5" stroke="rgb(54,54,54)" stroke-width="3.55"/>
<path d="M340.7 89.3 L341.4 87.6 L342.1 85.9 L342.8 84.2 L343.4 82.6" stroke="rgb(49,49,49)" stroke-width="3.55"/>
<path d="M343.2 83.3 L343.9 81.7 L344.6 80.2 L345.2 78.7 L345.9 77.3" stroke="rgb(45,45,45)" stroke-width="3.55"/>
<path d="M345.7 77.9 L346.4 76.5 L347.1 75.2 L347.8 74.0 L348.4 72.8" stroke="rgb(40,40,40)" stroke-width="3.55"/>
<path d="M348.2 73.3 L348.9 72.2 L349.6 71.1 L350.2 70.2 L350.9 69.4" stroke="rgb(35,35,35)" stroke-width="3.55"/>
<path d="M350.7 69.7 L351.4 68.9 L352.1 68.3 L352.8 67.7 L353.4 67.3" stroke="rgb(34,34,34)" stroke-width="3.55"/>
<path d="M353.2 67.5 L353.9 67.1 L354.6 66.9 L355.2 66.8 L355.9 66.8" stroke="rgb(34,34,34)" stroke-width="3.55"/>
<path d="M355.7 66.8 L356.4 66.9 L357.1 67.2 L357.8 67.5 L358.4 68.0" stroke="rgb(34,34,34)" stroke-width="3.55"/>
<path d="M358.2 67.8 L358.9 68.4 L359.6 69.0 L360.2 69.8 L360.9 70.7" stroke="rgb(34,34,34)" stroke-width="3.55"/>
<path d="M360.7 70.3 L361.4 71.3 L362.1 72.3 L362.8 73.4 L363.4 74.7" stroke="rgb(37,37,37)" stroke-width="3.55"/>
<path d="M363.2 74.1 L363.9 75.4 L364.6 76.7 L365.2 78.1 L365.9 79.6" stroke="rgb(41,41,41)" stroke-width="3.55"/>
<path d="M365.7 78.9 L366.4 80.4 L367.1 81.9 L367.8 83.5 L368.4 85.2" stroke="rgb(46,46,46)" stroke-width="3.55"/>
<path d="M368.2 84.5 L368.9 86.1 L369.6 87.8 L370.2 89.5 L370.9 91.3" stroke="rgb(51,51,51)" stroke-width="3.55"/>
<path d="M370.7 90.5 L371.4 92.3 L372.1 94.1 L372.8 95.9 L373.4 97.8" stroke="rgb(56,56,56)" stroke-width="3.55"/>
<path d="M373.2 97.0 L373.9 98.9 L374.6 100.8 L375.2 102.7 L375.9 104.6" stroke="rgb(60,60,60)" stroke-width="3.55"/>
<path d="M375.7 103.8 L376.4 105.7 L377.1 107.7 L377.8 109.6 L378.4 111.6" stroke="rgb(64,64,64)" stroke-width="3.55"/>
<path d="M378.2 110.8 L378.9 112.7 L379.6 114.8 L380.2 116.8 L380.9 118.8" stroke="rgb(64,64,64)" stroke-width="3.55"/>
<path d="M380.7 117.9 L381.4 119.9 L382.1 122.0 L382.8 124.0 L383.4 126.1" stroke="rgb(64,64,64)" stroke-width="3.55"/>
<path d="M383.2 125.2 L383.9 127.3 L384.6 129.3 L385.2 131.4 L385.9 133.5" stroke="rgb(64,64,64)" stroke-width="3.55"/>
<path d="M385.7 132.6 L386.4 134.7 L387.1 136.8 L387.8 138.9 L388.4 141.0" stroke="rgb(64,64,64)" stroke-width="3.55"/>
<path d="M388.2 140.1 L388.9 142.2 L389.6 144.3 L390.2 146.4 L390.9 148.5" stroke="rgb(64,64,64)" stroke-width="3.55"/>
<path d="M390.7 147.6 L391.4 149.7 L392.1 151.9 L392.8 154.0 L393.4 156.1" stroke="rgb(64,64,64)" stroke-width="3.55"/>
<path d="M393.2 155.2 L393.9 157.4 L394.6 159.5 L395.2 161.6 L395.9 163.8" stroke="rgb(64,64,64)" stroke-width="3.55"/>
<path d="M395.7 162.9 L396.4 165.0 L397.1 167.2 L397.8 169.3 L398.4 171.5" stroke="rgb(64,64,64)" stroke-width="3.55"/>
<path d="M398.2 170.6 L398.9 172.7 L399.6 174.9 L400.2 177.0 L400.9 179.2" stroke="rgb(64,64,64)" stroke-width="3.55"/>
<path d="M400.7 178.3 L401.4 180.4 L402.1 182.6 L402.8 184.8 L403.4 187.0" stroke="rgb(64,64,64)" stroke-width="3.55"/>
<path d="M403.2 186.0 L403.8 188.0 L404.5 190.1 L405.1 192.1 L405.8 194.1" stroke="rgb(64,64,64)" stroke-width="3.55"/>
<path d="M305.7 158.4 L306.7 156.2 L307.8 154.1 L308.9 151.9 L309.9 149.8" stroke="rgb(49,49,49)" stroke-width="3.45"/>
<path d="M309.7 150.4 L310.7 148.3 L311.8 146.1 L312.9 144.0 L313.9 142.0" stroke="rgb(49,49,49)" stroke-width="3.45"/>
<path d="M313.7 142.5 L314.7 140.5 L315.8 138.4 L316.9 136.4 L317.9 134.3" stroke="rgb(49,49,49)" stroke-width="3.45"/>
<path d="M317.7 134.9 L318.7 132.9 L319.8 130.9 L320.9 128.9 L321.9 127.0" stroke="rgb(49,49,49)" stroke-width="3.45"/>
<path d="M321.7 127.5 L322.7 125.6 L323.8 123.7 L324.9 121.8 L325.9 120.0" stroke="rgb(49,49,49)" stroke-width="3.45"/>
<path d="M325.7 120.5 L326.7 118.7 L327.8 116.9 L328.9 115.1 L329.9 113.4" stroke="rgb(48,48,48)" stroke-width="3.45"/>
<path d="M329.7 113.9 L330.7 112.2 L331.8 110.5 L332.9 108.9 L333.9 107.3" stroke="rgb(45,45,45)" stroke-width="3.45"/>
<path d="M333.7 107.8 L334.7 106.2 L335.8 104.8 L336.9 103.3 L337.9 101.9" stroke="rgb(41,41,41)" stroke-width="3.45"/>
<path d="M337.7 102.3 L338.7 101.0 L339.8 99.7 L340.9 98.5 L341.9 97.3" stroke="rgb(37,37,37)" stroke-width="3.45"/>
<path d="M341.7 97.7 L342.7 96.6 L343.8 95.5 L344.9 94.6 L345.9 93.7" stroke="rgb(34,34,34)" stroke-width="3.45"/>
<path d="M345.7 94.0 L346.7 93.2 L347.8 92.4 L348.9 91.8 L349.9 91.3" stroke="rgb(34,34,34)" stroke-width="3.45"/>
<path d="M349.7 91.4 L350.7 90.9 L351.8 90.6 L352.9 90.3 L353.9 90.1" stroke="rgb(34,34,34)" stroke-width="3.45"/>
<path d="M353.7 90.1 L354.7 90.0 L355.8 90.0 L356.9 90.1 L357.9 90.3" stroke="rgb(34,34,34)" stroke-width="3.45"/>
<path d="M357.7 90.2 L358.7 90.5 L359.8 90.8 L360.9 91.3 L361.9 91.8" stroke="rgb(34,34,34)" stroke-width="3.45"/>
<path d="M361.7 91.7 L362.7 92.3 L363.8 93.0 L364.9 93.7 L365.9 94.6" stroke="rgb(34,34,34)" stroke-width="3.45"/>
<path d="M365.7 94.4 L366.7 95.3 L367.8 96.3 L368.9 97.4 L369.9 98.5" stroke="rgb(34,34,34)" stroke-width="3.45"/>
<path d="M369.7 98.2 L370.7 99.4 L371.8 100.6 L372.9 102.0 L373.9 103.4" stroke="rgb(38,38,38)" stroke-width="3.45"/>
<path d="M373.7 103.0 L374.7 104.4 L375.8 105.9 L376.9 107.4 L377.9 109.0" stroke="rgb(41,41,41)" stroke-width="3.45"/>
<path d="M377.7 108.5 L378.7 110.1 L379.8 111.8 L380.9 113.4 L381.9 115.2" stroke="rgb(45,45,45)" stroke-width="3.45"/>
<path d="M381.7 114.7 L382.7 116.4 L383.8 118.2 L384.9 120.0 L385.9 121.9" stroke="rgb(49,49,49)" stroke-width="3.45"/>
<path d="M385.7 121.4 L386.7 123.2 L387.8 125.1 L388.9 127.0 L389.9 129.0" stroke="rgb(49,49,49)" stroke-width="3.45"/>
<path d="M389.7 128.4 L390.7 130.4 L391.8 132.4 L392.9 134.4 L393.9 136.4" stroke="rgb(49,49,49)" stroke-width="3.45"/>
<path d="M393.7 135.8 L394.7 137.9 L395.8 139.9 L396.9 142.0 L397.9 144.1" stroke="rgb(49,49,49)" stroke-width="3.45"/>
<path d="M397.7 143.5 L398.7 145.6 L399.8 147.7 L400.9 149.8 L401.9 152.0" stroke="rgb(49,49,49)" stroke-width="3.45"/>
<path d="M401.7 151.4 L402.7 153.4 L403.7 155.5 L404.7 157.5 L405.8 159.6" stroke="rgb(49,49,49)" stroke-width="3.45"/>
<path d="M305.7 199.1 L308.2 191.9 L310.8 184.8 L313.4 177.8 L315.9 170.9" stroke="rgb(63,63,63)" stroke-width="3.10"/>
<path d="M315.7 171.7 L318.2 164.9 L320.8 158.2 L323.4 151.7 L325.9 145.4" stroke="rgb(62,62,62)" stroke-width="3.10"/>
<path d="M325.7 146.1 L328.2 140.0 L330.8 134.1 L333.4 128.5 L335.9 123.2" stroke="rgb(58,58,58)" stroke-width="3.10"/>
<path d="M335.7 123.8 L338.2 118.9 L340.8 114.4 L343.4 110.5 L345.9 107.2" stroke="rgb(54,54,54)" stroke-width="3.10"/>
<path d="M345.7 107.5 L348.2 104.8 L350.8 102.9 L353.4 101.8 L355.9 101.5" stroke="rgb(53,53,53)" stroke-width="3.10"/>
<path d="M355.7 101.5 L358.2 102.0 L360.8 103.4 L363.4 105.6 L365.9 108.5" stroke="rgb(53,53,53)" stroke-width="3.10"/>
<path d="M365.7 108.1 L368.2 111.6 L370.8 115.7 L373.4 120.3 L375.9 125.4" stroke="rgb(54,54,54)" stroke-width="3.10"/>
<path d="M375.7 124.8 L378.2 130.2 L380.8 135.9 L383.4 141.9 L385.9 148.1" stroke="rgb(58,58,58)" stroke-width="3.10"/>
<path d="M385.7 147.3 L388.2 153.7 L390.8 160.3 L393.4 167.0 L395.9 173.9" stroke="rgb(62,62,62)" stroke-width="3.10"/>
<path d="M395.7 173.1 L398.2 179.9 L400.7 186.8 L403.2 193.8 L405.8 200.8" stroke="rgb(63,63,63)" stroke-width="3.10"/>
<path d="M305.7 169.7 L308.2 164.7 L310.8 159.9 L313.4 155.1 L315.9 150.4" stroke="rgb(64,64,64)" stroke-width="3.40"/>
<path d="M315.7 151.0 L318.2 146.4 L320.8 142.0 L323.4 137.8 L325.9 133.7" stroke="rgb(63,63,63)" stroke-width="3.40"/>
<path d="M325.7 134.1 L328.2 130.2 L330.8 126.6 L333.4 123.1 L335.9 119.9" stroke="rgb(59,59,59)" stroke-width="3.40"/>
<path d="M335.7 120.3 L338.2 117.4 L340.8 114.8 L343.4 112.6 L345.9 110.8" stroke="rgb(55,55,55)" stroke-width="3.40"/>
<path d="M345.7 110.9 L348.2 109.5 L350.8 108.4 L353.4 107.8 L355.9 107.7" stroke="rgb(54,54,54)" stroke-width="3.40"/>
<path d="M355.7 107.7 L358.2 108.0 L360.8 108.7 L363.4 109.9 L365.9 111.5" stroke="rgb(54,54,54)" stroke-width="3.40"/>
<path d="M365.7 111.3 L368.2 113.2 L370.8 115.6 L373.4 118.3 L375.9 121.3" stroke="rgb(56,56,56)" stroke-width="3.40"/>
<path d="M375.7 120.9 L378.2 124.2 L380.8 127.7 L383.4 131.4 L385.9 135.4" stroke="rgb(59,59,59)" stroke-width="3.40"/>
<path d="M385.7 134.9 L388.2 139.1 L390.8 143.4 L393.4 147.8 L395.9 152.4" stroke="rgb(63,63,63)" stroke-width="3.40"/>
<path d="M395.7 151.9 L398.2 156.5 L400.7 161.2 L403.2 166.0 L405.8 170.9" stroke="rgb(64,64,64)" stroke-width="3.40"/>
<path d="M305.7 158.3 L308.2 154.4 L310.8 150.6 L313.4 146.9 L315.9 143.3" stroke="rgb(65,65,65)" stroke-width="3.40"/>
<path d="M315.7 143.7 L318.2 140.2 L320.8 136.9 L323.4 133.7 L325.9 130.6" stroke="rgb(64,64,64)" stroke-width="3.40"/>
<path d="M325.7 130.9 L328.2 128.0 L330.8 125.3 L333.4 122.8 L335.9 120.5" stroke="rgb(61,61,61)" stroke-width="3.40"/>
<path d="M335.7 120.8 L338.2 118.7 L340.8 116.9 L343.4 115.3 L345.9 114.0" stroke="rgb(57,57,57)" stroke-width="3.40"/>
<path d="M345.7 114.1 L348.2 113.1 L350.8 112.4 L353.4 112.0 L355.9 111.9" stroke="rgb(56,56,56)" stroke-width="3.40"/>
<path d="M355.7 111.9 L358.2 112.1 L360.8 112.6 L363.4 113.4 L365.9 114.5" stroke="rgb(56,56,56)" stroke-width="3.40"/>
<path d="M365.7 114.4 L368.2 115.8 L370.8 117.4 L373.4 119.3 L375.9 121.5" stroke="rgb(57,57,57)" stroke-width="3.40"/>
<path d="M375.7 121.2 L378.2 123.6 L380.8 126.2 L383.4 128.9 L385.9 131.9" stroke="rgb(61,61,61)" stroke-width="3.40"/>
<path d="M385.7 131.5 L388.2 134.6 L390.8 137.9 L393.4 141.3 L395.9 144.8" stroke="rgb(64,64,64)" stroke-width="3.40"/>
<path d="M395.7 144.4 L398.2 148.0 L400.7 151.6 L403.2 155.4 L405.8 159.3" stroke="rgb(65,65,65)" stroke-width="3.40"/>
<path d="M305.7 158.9 L308.2 155.4 L310.8 152.0 L313.4 148.7 L315.9 145.5" stroke="rgb(64,64,64)" stroke-width="3.50"/>
<path d="M315.7 145.8 L318.2 142.7 L320.8 139.8 L323.4 137.0 L325.9 134.3" stroke="rgb(63,63,63)" stroke-width="3.50"/>
<path d="M325.7 134.6 L328.2 132.1 L330.8 129.7 L333.4 127.6 L335.9 125.6" stroke="rgb(59,59,59)" stroke-width="3.50"/>
<path d="M335.7 125.8 L338.2 124.0 L340.8 122.5 L343.4 121.2 L345.9 120.1" stroke="rgb(55,55,55)" stroke-width="3.50"/>
<path d="M345.7 120.2 L348.2 119.3 L350.8 118.7 L353.4 118.4 L355.9 118.3" stroke="rgb(54,54,54)" stroke-width="3.50"/>
<path d="M355.7 118.3 L358.2 118.5 L360.8 118.9 L363.4 119.6 L365.9 120.5" stroke="rgb(54,54,54)" stroke-width="3.50"/>
<path d="M365.7 120.4 L368.2 121.5 L370.8 122.9 L373.4 124.6 L375.9 126.4" stroke="rgb(56,56,56)" stroke-width="3.50"/>
<path d="M375.7 126.2 L378.2 128.2 L380.8 130.4 L383.4 132.9 L385.9 135.4" stroke="rgb(59,59,59)" stroke-width="3.50"/>
<path d="M385.7 135.1 L388.2 137.8 L390.8 140.7 L393.4 143.7 L395.9 146.8" stroke="rgb(63,63,63)" stroke-width="3.50"/>
<path d="M395.7 146.5 L398.2 149.6 L400.7 152.9 L403.2 156.3 L405.8 159.7" stroke="rgb(64,64,64)" stroke-width="3.50"/>
<path d="M305.7 178.4 L308.2 173.7 L310.8 169.0 L313.4 164.4 L315.9 160.0" stroke="rgb(63,63,63)" stroke-width="3.50"/>
<path d="M315.7 160.5 L318.2 156.1 L320.8 152.0 L323.4 148.0 L325.9 144.2" stroke="rgb(62,62,62)" stroke-width="3.50"/>
<path d="M325.7 144.6 L328.2 141.0 L330.8 137.5 L333.4 134.4 L335.9 131.5" stroke="rgb(58,58,58)" stroke-width="3.50"/>
<path d="M335.7 131.8 L338.2 129.2 L340.8 126.8 L343.4 124.8 L345.9 123.2" stroke="rgb(54,54,54)" stroke-width="3.50"/>
<path d="M345.7 123.4 L348.2 122.1 L350.8 121.1 L353.4 120.6 L355.9 120.5" stroke="rgb(53,53,53)" stroke-width="3.50"/>
<path d="M355.7 120.5 L358.2 120.7 L360.8 121.4 L363.4 122.4 L365.9 123.9" stroke="rgb(53,53,53)" stroke-width="3.50"/>
<path d="M365.7 123.7 L368.2 125.4 L370.8 127.5 L373.4 130.0 L375.9 132.7" stroke="rgb(54,54,54)" stroke-width="3.50"/>
<path d="M375.7 132.4 L378.2 135.3 L380.8 138.6 L383.4 142.1 L385.9 145.8" stroke="rgb(58,58,58)" stroke-width="3.50"/>
<path d="M385.7 145.3 L388.2 149.2 L390.8 153.2 L393.4 157.5 L395.9 161.8" stroke="rgb(62,62,62)" stroke-width="3.50"/>
<path d="M395.7 161.3 L398.2 165.7 L400.7 170.2 L403.2 174.9 L405.8 179.6" stroke="rgb(63,63,63)" stroke-width="3.50"/>
<path d="M305.7 188.3 L308.2 183.4 L310.8 178.5 L313.4 173.8 L315.9 169.2" stroke="rgb(64,64,64)" stroke-width="3.40"/>
<path d="M315.7 169.8 L318.2 165.3 L320.8 161.0 L323.4 156.9 L325.9 153.0" stroke="rgb(64,64,64)" stroke-width="3.40"/>
<path d="M325.7 153.4 L328.2 149.7 L330.8 146.2 L333.4 143.0 L335.9 140.1" stroke="rgb(60,60,60)" stroke-width="3.40"/>
<path d="M335.7 140.4 L338.2 137.7 L340.8 135.3 L343.4 133.3 L345.9 131.6" stroke="rgb(56,56,56)" stroke-width="3.40"/>
<path d="M345.7 131.8 L348.2 130.5 L350.8 129.6 L353.4 129.0 L355.9 128.9" stroke="rgb(56,56,56)" stroke-width="3.40"/>
<path d="M355.7 128.9 L358.2 129.1 L360.8 129.8 L363.4 130.9 L365.9 132.3" stroke="rgb(56,56,56)" stroke-width="3.40"/>
<path d="M365.7 132.1 L368.2 133.9 L370.8 136.0 L373.4 138.5 L375.9 141.3" stroke="rgb(57,57,57)" stroke-width="3.40"/>
<path d="M375.7 140.9 L378.2 144.0 L380.8 147.3 L383.4 150.9 L385.9 154.6" stroke="rgb(60,60,60)" stroke-width="3.40"/>
<path d="M385.7 154.2 L388.2 158.2 L390.8 162.3 L393.4 166.7 L395.9 171.2" stroke="rgb(64,64,64)" stroke-width="3.40"/>
<path d="M395.7 170.6 L398.2 175.2 L400.7 179.8 L403.2 184.6 L405.8 189.5" stroke="rgb(64,64,64)" stroke-width="3.40"/>
<path d="M305.7 184.3 L308.2 180.0 L310.8 175.9 L313.4 171.8 L315.9 167.9" stroke="rgb(64,64,64)" stroke-width="3.40"/>
<path d="M315.7 168.3 L318.2 164.5 L320.8 160.9 L323.4 157.4 L325.9 154.1" stroke="rgb(64,64,64)" stroke-width="3.40"/>
<path d="M325.7 154.5 L328.2 151.4 L330.8 148.5 L333.4 145.8 L335.9 143.4" stroke="rgb(60,60,60)" stroke-width="3.40"/>
<path d="M335.7 143.6 L338.2 141.4 L340.8 139.5 L343.4 137.9 L345.9 136.5" stroke="rgb(56,56,56)" stroke-width="3.40"/>
<path d="M345.7 136.7 L348.2 135.6 L350.8 134.8 L353.4 134.4 L355.9 134.3" stroke="rgb(56,56,56)" stroke-width="3.40"/>
<path d="M355.7 134.3 L358.2 134.5 L360.8 135.0 L363.4 135.9 L365.9 137.0" stroke="rgb(56,56,56)" stroke-width="3.40"/>
<path d="M365.7 136.9 L368.2 138.3 L370.8 140.1 L373.4 142.1 L375.9 144.4" stroke="rgb(57,57,57)" stroke-width="3.40"/>
<path d="M375.7 144.1 L378.2 146.6 L380.8 149.4 L383.4 152.3 L385.9 155.5" stroke="rgb(60,60,60)" stroke-width="3.40"/>
<path d="M385.7 155.1 L388.2 158.5 L390.8 162.0 L393.4 165.7 L395.9 169.5" stroke="rgb(64,64,64)" stroke-width="3.40"/>
<path d="M395.7 169.1 L398.2 173.0 L400.7 177.0 L403.2 181.1 L405.8 185.4" stroke="rgb(64,64,64)" stroke-width="3.40"/>
<path d="M305.7 185.7 L308.2 181.9 L310.8 178.1 L313.4 174.4 L315.9 170.9" stroke="rgb(64,64,64)" stroke-width="3.40"/>
<path d="M315.7 171.3 L318.2 167.9 L320.8 164.7 L323.4 161.6 L325.9 158.7" stroke="rgb(64,64,64)" stroke-width="3.40"/>
<path d="M325.7 159.0 L328.2 156.3 L330.8 153.7 L333.4 151.4 L335.9 149.2" stroke="rgb(60,60,60)" stroke-width="3.40"/>
<path d="M335.7 149.5 L338.2 147.6 L340.8 145.9 L343.4 144.5 L345.9 143.3" stroke="rgb(56,56,56)" stroke-width="3.40"/>
<path d="M345.7 143.4 L348.2 142.5 L350.8 141.9 L353.4 141.5 L355.9 141.4" stroke="rgb(56,56,56)" stroke-width="3.40"/>
<path d="M355.7 141.4 L358.2 141.6 L360.8 142.0 L363.4 142.8 L365.9 143.8" stroke="rgb(56,56,56)" stroke-width="3.40"/>
<path d="M365.7 143.6 L368.2 144.9 L370.8 146.4 L373.4 148.1 L375.9 150.1" stroke="rgb(57,57,57)" stroke-width="3.40"/>
<path d="M375.7 149.9 L378.2 152.1 L380.8 154.5 L383.4 157.1 L385.9 159.9" stroke="rgb(60,60,60)" stroke-width="3.40"/>
<path d="M385.7 159.6 L388.2 162.5 L390.8 165.7 L393.4 168.9 L395.9 172.4" stroke="rgb(64,64,64)" stroke-width="3.40"/>
<path d="M395.7 172.0 L398.2 175.5 L400.7 179.1 L403.2 182.8 L405.8 186.7" stroke="rgb(64,64,64)" stroke-width="3.40"/>
<path d="M305.7 187.2 L308.2 183.6 L310.8 180.1 L313.4 176.8 L315.9 173.5" stroke="rgb(64,64,64)" stroke-width="3.50"/>
<path d="M315.7 173.9 L318.2 170.8 L320.8 167.8 L323.4 165.0 L325.9 162.3" stroke="rgb(63,63,63)" stroke-width="3.50"/>
<path d="M325.7 162.6 L328.2 160.1 L330.8 157.8 L333.4 155.7 L335.9 153.7" stroke="rgb(59,59,59)" stroke-width="3.50"/>
<path d="M335.7 154.0 L338.2 152.2 L340.8 150.7 L343.4 149.4 L345.9 148.4" stroke="rgb(55,55,55)" stroke-width="3.50"/>
<path d="M345.7 148.5 L348.2 147.7 L350.8 147.1 L353.4 146.8 L355.9 146.7" stroke="rgb(54,54,54)" stroke-width="3.50"/>
<path d="M355.7 146.7 L358.2 146.9 L360.8 147.3 L363.4 147.9 L365.9 148.8" stroke="rgb(54,54,54)" stroke-width="3.50"/>
<path d="M365.7 148.7 L368.2 149.8 L370.8 151.2 L373.4 152.7 L375.9 154.5" stroke="rgb(56,56,56)" stroke-width="3.50"/>
<path d="M375.7 154.3 L378.2 156.3 L380.8 158.5 L383.4 160.9 L385.9 163.4" stroke="rgb(59,59,59)" stroke-width="3.50"/>
<path d="M385.7 163.1 L388.2 165.8 L390.8 168.7 L393.4 171.7 L395.9 174.9" stroke="rgb(63,63,63)" stroke-width="3.50"/>
<path d="M395.7 174.5 L398.2 177.7 L400.7 181.1 L403.2 184.5 L405.8 188.1" stroke="rgb(64,64,64)" stroke-width="3.50"/>
<path d="M305.7 196.8 L308.2 192.8 L310.8 189.0 L313.4 185.2 L315.9 181.7" stroke="rgb(61,61,61)" stroke-width="3.50"/>
<path d="M315.7 182.1 L318.2 178.6 L320.8 175.3 L323.4 172.2 L325.9 169.3" stroke="rgb(60,60,60)" stroke-width="3.50"/>
<path d="M325.7 169.6 L328.2 166.8 L330.8 164.3 L333.4 161.9 L335.9 159.8" stroke="rgb(55,55,55)" stroke-width="3.50"/>
<path d="M335.7 160.0 L338.2 158.1 L340.8 156.4 L343.4 155.0 L345.9 153.8" stroke="rgb(50,50,50)" stroke-width="3.50"/>
<path d="M345.7 153.9 L348.2 153.0 L350.8 152.4 L353.4 152.0 L355.9 151.9" stroke="rgb(49,49,49)" stroke-width="3.50"/>
<path d="M355.7 151.9 L358.2 152.1 L360.8 152.5 L363.4 153.3 L365.9 154.3" stroke="rgb(49,49,49)" stroke-width="3.50"/>
<path d="M365.7 154.1 L368.2 155.4 L370.8 156.9 L373.4 158.6 L375.9 160.6" stroke="rgb(50,50,50)" stroke-width="3.50"/>
<path d="M375.7 160.4 L378.2 162.6 L380.8 165.0 L383.4 167.7 L385.9 170.5" stroke="rgb(55,55,55)" stroke-width="3.50"/>
<path d="M385.7 170.2 L388.2 173.2 L390.8 176.3 L393.4 179.7 L395.9 183.2" stroke="rgb(61,61,61)" stroke-width="3.50"/>
<path d="M395.7 182.8 L398.2 186.3 L400.7 190.0 L403.2 193.8 L405.8 197.7" stroke="rgb(61,61,61)" stroke-width="3.50"/>
<path d="M305.7 195.6 L306.7 194.1 L307.8 192.6 L308.9 191.2 L309.9 189.7" stroke="rgb(53,53,53)" stroke-width="3.80"/>
<path d="M309.7 190.1 L310.7 188.7 L311.8 187.3 L312.9 186.0 L313.9 184.6" stroke="rgb(49,49,49)" stroke-width="3.80"/>
<path d="M313.7 185.0 L314.7 183.7 L315.8 182.4 L316.9 181.1 L317.9 179.8" stroke="rgb(34,34,34)" stroke-width="3.80"/>
<path d="M317.7 180.2 L318.7 178.9 L319.8 177.7 L320.9 176.6 L321.9 175.4" stroke="rgb(28,28,28)" stroke-width="3.80"/>
<path d="M321.7 175.7 L322.7 174.6 L323.8 173.5 L324.9 172.4 L325.9 171.3" stroke="rgb(28,28,28)" stroke-width="3.80"/>
<path d="M325.7 171.6 L326.7 170.6 L327.8 169.6 L328.9 168.6 L329.9 167.7" stroke="rgb(28,28,28)" stroke-width="3.80"/>
<path d="M329.7 168.0 L330.7 167.1 L331.8 166.2 L332.9 165.3 L333.9 164.5" stroke="rgb(28,28,28)" stroke-width="3.80"/>
<path d="M333.7 164.8 L334.7 164.0 L335.8 163.2 L336.9 162.5 L337.9 161.8" stroke="rgb(31,31,31)" stroke-width="3.80"/>
<path d="M337.7 162.0 L338.7 161.4 L339.8 160.8 L340.9 160.2 L341.9 159.7" stroke="rgb(38,38,38)" stroke-width="3.80"/>
<path d="M341.7 159.8 L342.7 159.3 L343.8 158.8 L344.9 158.4 L345.9 158.0" stroke="rgb(43,43,43)" stroke-width="3.80"/>
<path d="M345.7 158.1 L346.7 157.8 L347.8 157.4 L348.9 157.2 L349.9 156.9" stroke="rgb(43,43,43)" stroke-width="3.80"/>
<path d="M349.7 157.0 L350.7 156.8 L351.8 156.6 L352.9 156.5 L353.9 156.4" stroke="rgb(43,43,43)" stroke-width="3.80"/>
<path d="M353.7 156.5 L354.7 156.4 L355.8 156.4 L356.9 156.4 L357.9 156.5" stroke="rgb(43,43,43)" stroke-width="3.80"/>
<path d="M357.7 156.5 L358.7 156.6 L359.8 156.8 L360.9 156.9 L361.9 157.2" stroke="rgb(43,43,43)" stroke-width="3.80"/>
<path d="M361.7 157.1 L362.7 157.4 L363.8 157.7 L364.9 158.0 L365.9 158.4" stroke="rgb(43,43,43)" stroke-width="3.80"/>
<path d="M365.7 158.3 L366.7 158.7 L367.8 159.2 L368.9 159.7 L369.9 160.2" stroke="rgb(42,42,42)" stroke-width="3.80"/>
<path d="M369.7 160.1 L370.7 160.6 L371.8 161.2 L372.9 161.9 L373.9 162.5" stroke="rgb(36,36,36)" stroke-width="3.80"/>
<path d="M373.7 162.3 L374.7 163.0 L375.8 163.8 L376.9 164.6 L377.9 165.4" stroke="rgb(30,30,30)" stroke-width="3.80"/>
<path d="M377.7 165.1 L378.7 166.0 L379.8 166.8 L380.9 167.7 L381.9 168.7" stroke="rgb(28,28,28)" stroke-width="3.80"/>
<path d="M381.7 168.4 L382.7 169.4 L383.8 170.4 L384.9 171.4 L385.9 172.4" stroke="rgb(28,28,28)" stroke-width="3.80"/>
<path d="M385.7 172.1 L386.7 173.2 L387.8 174.3 L388.9 175.4 L389.9 176.6" stroke="rgb(28,28,28)" stroke-width="3.80"/>
<path d="M389.7 176.3 L390.7 177.4 L391.8 178.6 L392.9 179.9 L393.9 181.1" stroke="rgb(28,28,28)" stroke-width="3.80"/>
<path d="M393.7 180.8 L394.7 182.0 L395.8 183.3 L396.9 184.7 L397.9 186.0" stroke="rgb(37,37,37)" stroke-width="3.80"/>
<path d="M397.7 185.6 L398.7 187.0 L399.8 188.4 L400.9 189.8 L401.9 191.2" stroke="rgb(52,52,52)" stroke-width="3.80"/>
<path d="M401.7 190.8 L402.7 192.2 L403.7 193.6 L404.7 195.0 L405.8 196.4" stroke="rgb(53,53,53)" stroke-width="3.80"/>
<path d="M305.8 191.3 L308.3 188.7 L310.8 186.2 L313.3 183.8 L315.8 181.5 L318.3 179.2 L320.8 177.0 L323.3 174.8 L325.8 172.8 L328.3 170.9 L330.8 169.0 L333.2 167.3 L335.7 165.8 L338.2 164.3 L340.7 163.1 L343.2 162.0 L345.7 161.0 L348.2 160.3 L350.7 159.8 L353.2 159.5 L355.7 159.4 L358.2 159.5 L360.7 159.9 L363.2 160.5 L365.7 161.2 L368.2 162.2 L370.7 163.4 L373.2 164.7 L375.7 166.1 L378.2 167.7 L380.7 169.5 L383.1 171.3 L385.6 173.3 L388.1 175.3 L390.6 177.5 L393.1 179.7 L395.6 182.0 L398.1 184.4 L400.6 186.8 L403.1 189.3 L405.6 192.0" stroke="rgb(49,49,49)" stroke-width="3.50"/>
<path d="M305.8 192.5 L308.3 189.8 L310.8 187.2 L313.3 184.7 L315.8 182.4 L318.3 180.1 L320.8 178.0 L323.3 175.9 L325.8 174.0 L328.3 172.3 L330.8 170.6 L333.2 169.1 L335.7 167.8 L338.2 166.6 L340.7 165.6 L343.2 164.7 L345.7 164.0 L348.2 163.4 L350.7 163.0 L353.2 162.8 L355.7 162.7 L358.2 162.8 L360.7 163.1 L363.2 163.5 L365.7 164.1 L368.2 164.9 L370.7 165.8 L373.2 166.9 L375.7 168.1 L378.2 169.5 L380.7 171.0 L383.1 172.7 L385.6 174.5 L388.1 176.4 L390.6 178.5 L393.1 180.6 L395.6 182.9 L398.1 185.3 L400.6 187.8 L403.1 190.4 L405.6 193.1" stroke="rgb(56,56,56)" stroke-width="3.10"/>
<path d="M305.8 201.4 L308.3 199.4 L310.8 197.5 L313.3 195.6 L315.8 193.8 L318.3 192.2 L320.8 190.6 L323.3 189.1 L325.8 187.7 L328.3 186.4 L330.8 185.2 L333.2 184.1 L335.7 183.2 L338.2 182.3 L340.7 181.5 L343.2 180.9 L345.7 180.4 L348.2 180.0 L350.7 179.7 L353.2 179.5 L355.7 179.5 L358.2 179.6 L360.7 179.8 L363.2 180.1 L365.7 180.5 L368.2 181.1 L370.7 181.7 L373.2 182.5 L375.7 183.4 L378.2 184.4 L380.7 185.5 L383.1 186.7 L385.6 188.0 L388.1 189.4 L390.6 190.9 L393.1 192.6 L395.6 194.3 L398.1 196.1 L400.6 197.9 L403.1 199.9 L405.6 201.9" stroke="rgb(60,60,60)" stroke-width="3.60"/>
<path d="M305.8 207.8 L308.3 205.7 L310.8 203.7 L313.3 201.8 L315.8 200.0 L318.3 198.3 L320.8 196.7 L323.3 195.2 L325.8 193.8 L328.3 192.4 L330.8 191.2 L333.2 190.1 L335.7 189.1 L338.2 188.2 L340.7 187.5 L343.2 186.8 L345.7 186.3 L348.2 185.9 L350.7 185.6 L353.2 185.4 L355.7 185.4 L358.2 185.5 L360.7 185.7 L363.2 186.0 L365.7 186.4 L368.2 187.0 L370.7 187.7 L373.2 188.5 L375.7 189.4 L378.2 190.4 L380.7 191.5 L383.1 192.7 L385.6 194.1 L388.1 195.5 L390.6 197.1 L393.1 198.7 L395.6 200.5 L398.1 202.3 L400.6 204.2 L403.1 206.2 L405.6 208.3" stroke="rgb(56,56,56)" stroke-width="3.70"/>
<path d="M305.8 216.0 L308.3 213.7 L310.8 211.4 L313.3 209.3 L315.8 207.2 L318.3 205.3 L320.8 203.4 L323.3 201.7 L325.8 200.1 L328.3 198.6 L330.8 197.2 L333.2 196.0 L335.7 194.8 L338.2 193.8 L340.7 193.0 L343.2 192.2 L345.7 191.6 L348.2 191.2 L350.7 190.8 L353.2 190.7 L355.7 190.6 L358.2 190.7 L360.7 190.9 L363.2 191.3 L365.7 191.8 L368.2 192.4 L370.7 193.2 L373.2 194.1 L375.7 195.1 L378.2 196.3 L380.7 197.6 L383.1 199.0 L385.6 200.5 L388.1 202.1 L390.6 203.9 L393.1 205.7 L395.6 207.7 L398.1 209.8 L400.6 212.0 L403.1 214.2 L405.6 216.6" stroke="rgb(56,56,56)" stroke-width="3.70"/>
<path d="M305.8 220.3 L308.3 218.3 L310.8 216.3 L313.3 214.5 L315.8 212.7 L318.3 211.0 L320.8 209.4 L323.3 207.9 L325.8 206.5 L328.3 205.2 L330.8 204.0 L333.2 202.9 L335.7 201.9 L338.2 201.1 L340.7 200.3 L343.2 199.7 L345.7 199.2 L348.2 198.8 L350.7 198.5 L353.2 198.3 L355.7 198.3 L358.2 198.4 L360.7 198.6 L363.2 198.9 L365.7 199.3 L368.2 199.8 L370.7 200.5 L373.2 201.3 L375.7 202.2 L378.2 203.2 L380.7 204.3 L383.1 205.5 L385.6 206.8 L388.1 208.2 L390.6 209.8 L393.1 211.4 L395.6 213.1 L398.1 214.9 L400.6 216.8 L403.1 218.8 L405.6 220.8" stroke="rgb(56,56,56)" stroke-width="3.70"/>
<path d="M305.8 224.1 L308.3 222.3 L310.8 220.6 L313.3 219.0 L315.8 217.4 L318.3 215.9 L320.8 214.6 L323.3 213.3 L325.8 212.1 L328.3 210.9 L330.8 209.9 L333.2 209.0 L335.7 208.1 L338.2 207.4 L340.7 206.8 L343.2 206.2 L345.7 205.8 L348.2 205.4 L350.7 205.2 L353.2 205.0 L355.7 205.0 L358.2 205.1 L360.7 205.2 L363.2 205.5 L365.7 205.9 L368.2 206.3 L370.7 206.9 L373.2 207.6 L375.7 208.3 L378.2 209.2 L380.7 210.1 L383.1 211.2 L385.6 212.3 L388.1 213.6 L390.6 214.9 L393.1 216.3 L395.6 217.8 L398.1 219.4 L400.6 221.0 L403.1 222.7 L405.6 224.5" stroke="rgb(62,62,62)" stroke-width="3.60"/>
<path d="M305.7 260.2 L306.7 258.4 L307.8 256.7 L308.9 254.9 L309.9 253.2" stroke="rgb(60,60,60)" stroke-width="3.70"/>
<path d="M309.7 253.7 L310.7 252.0 L311.8 250.3 L312.9 248.7 L313.9 247.1" stroke="rgb(60,60,60)" stroke-width="3.70"/>
<path d="M313.7 247.5 L314.7 245.9 L315.8 244.4 L316.9 242.8 L317.9 241.3" stroke="rgb(60,60,60)" stroke-width="3.70"/>
<path d="M317.7 241.7 L318.7 240.3 L319.8 238.8 L320.9 237.4 L321.9 236.0" stroke="rgb(60,60,60)" stroke-width="3.70"/>
<path d="M321.7 236.4 L322.7 235.1 L323.8 233.8 L324.9 232.5 L325.9 231.2" stroke="rgb(60,60,60)" stroke-width="3.70"/>
<path d="M325.7 231.6 L326.7 230.4 L327.8 229.2 L328.9 228.0 L329.9 226.9" stroke="rgb(60,60,60)" stroke-width="3.70"/>
<path d="M329.7 227.2 L330.7 226.2 L331.8 225.1 L332.9 224.1 L333.9 223.2" stroke="rgb(59,59,59)" stroke-width="3.70"/>
<path d="M333.7 223.5 L334.7 222.5 L335.8 221.7 L336.9 220.8 L337.9 220.0" stroke="rgb(52,52,52)" stroke-width="3.70"/>
<path d="M337.7 220.3 L338.7 219.5 L339.8 218.8 L340.9 218.1 L341.9 217.5" stroke="rgb(45,45,45)" stroke-width="3.70"/>
<path d="M341.7 217.7 L342.7 217.1 L343.8 216.5 L344.9 216.0 L345.9 215.6" stroke="rgb(45,45,45)" stroke-width="3.70"/>
<path d="M345.7 215.7 L346.7 215.3 L347.8 214.9 L348.9 214.6 L349.9 214.3" stroke="rgb(45,45,45)" stroke-width="3.70"/>
<path d="M349.7 214.4 L350.7 214.2 L351.8 214.0 L352.9 213.8 L353.9 213.7" stroke="rgb(45,45,45)" stroke-width="3.70"/>
<path d="M353.7 213.8 L354.7 213.7 L355.8 213.7 L356.9 213.7 L357.9 213.8" stroke="rgb(45,45,45)" stroke-width="3.70"/>
<path d="M357.7 213.8 L358.7 213.9 L359.8 214.1 L360.9 214.3 L361.9 214.6" stroke="rgb(45,45,45)" stroke-width="3.70"/>
<path d="M361.7 214.5 L362.7 214.8 L363.8 215.2 L364.9 215.6 L365.9 216.0" stroke="rgb(45,45,45)" stroke-width="3.70"/>
<path d="M365.7 215.9 L366.7 216.4 L367.8 216.9 L368.9 217.5 L369.9 218.1" stroke="rgb(45,45,45)" stroke-width="3.70"/>
<path d="M369.7 217.9 L370.7 218.6 L371.8 219.3 L372.9 220.1 L373.9 220.8" stroke="rgb(46,46,46)" stroke-width="3.70"/>
<path d="M373.7 220.6 L374.7 221.4 L375.8 222.3 L376.9 223.2 L377.9 224.2" stroke="rgb(53,53,53)" stroke-width="3.70"/>
<path d="M377.7 223.9 L378.7 224.9 L379.8 225.9 L380.9 227.0 L381.9 228.1" stroke="rgb(60,60,60)" stroke-width="3.70"/>
<path d="M381.7 227.8 L382.7 228.9 L383.8 230.1 L384.9 231.3 L385.9 232.5" stroke="rgb(60,60,60)" stroke-width="3.70"/>
<path d="M385.7 232.1 L386.7 233.4 L387.8 234.7 L388.9 236.1 L389.9 237.4" stroke="rgb(60,60,60)" stroke-width="3.70"/>
<path d="M389.7 237.1 L390.7 238.5 L391.8 239.9 L392.9 241.4 L393.9 242.9" stroke="rgb(60,60,60)" stroke-width="3.70"/>
<path d="M393.7 242.4 L394.7 244.0 L395.8 245.5 L396.9 247.1 L397.9 248.7" stroke="rgb(60,60,60)" stroke-width="3.70"/>
<path d="M397.7 248.3 L398.7 249.9 L399.8 251.6 L400.9 253.2 L401.9 255.0" stroke="rgb(60,60,60)" stroke-width="3.70"/>
<path d="M401.7 254.5 L402.7 256.1 L403.7 257.8 L404.7 259.5 L405.8 261.3" stroke="rgb(60,60,60)" stroke-width="3.70"/>
<path d="M305.7 192.2 L306.4 190.1 L307.1 187.9 L307.8 185.7 L308.4 183.5" stroke="rgb(99,99,99)" stroke-width="1.25"/>
<path d="M308.2 184.5 L308.9 182.3 L309.6 180.1 L310.2 178.0 L310.9 175.8" stroke="rgb(99,99,99)" stroke-width="1.25"/>
<path d="M310.7 176.7 L311.4 174.6 L312.1 172.4 L312.8 170.3 L313.4 168.1" stroke="rgb(99,99,99)" stroke-width="1.25"/>
<path d="M313.2 169.0 L313.9 166.9 L314.6 164.7 L315.2 162.6 L315.9 160.4" stroke="rgb(99,99,99)" stroke-width="1.25"/>
<path d="M315.7 161.3 L316.4 159.2 L317.1 157.1 L317.8 154.9 L318.4 152.8" stroke="rgb(99,99,99)" stroke-width="1.25"/>
<path d="M318.2 153.7 L318.9 151.6 L319.6 149.4 L320.2 147.3 L320.9 145.2" stroke="rgb(99,99,99)" stroke-width="1.25"/>
<path d="M320.7 146.1 L321.4 144.0 L322.1 141.9 L322.8 139.8 L323.4 137.7" stroke="rgb(99,99,99)" stroke-width="1.25"/>
<path d="M323.2 138.6 L323.9 136.5 L324.6 134.4 L325.2 132.3 L325.9 130.2" stroke="rgb(99,99,99)" stroke-width="1.25"/>
<path d="M325.7 131.1 L326.4 129.0 L327.1 127.0 L327.8 124.9 L328.4 122.9" stroke="rgb(99,99,99)" stroke-width="1.25"/>
<path d="M328.2 123.7 L328.9 121.7 L329.6 119.7 L330.2 117.6 L330.9 115.6" stroke="rgb(99,99,99)" stroke-width="1.25"/>
<path d="M330.7 116.5 L331.4 114.5 L332.1 112.5 L332.8 110.5 L333.4 108.5" stroke="rgb(99,99,99)" stroke-width="1.25"/>
<path d="M333.2 109.3 L333.9 107.4 L334.6 105.4 L335.2 103.5 L335.9 101.6" stroke="rgb(100,100,100)" stroke-width="1.25"/>
<path d="M335.7 102.4 L336.4 100.5 L337.1 98.6 L337.8 96.7 L338.4 94.9" stroke="rgb(117,117,117)" stroke-width="1.25"/>
<path d="M338.2 95.7 L338.9 93.9 L339.6 92.1 L340.2 90.3 L340.9 88.5" stroke="rgb(134,134,134)" stroke-width="1.25"/>
<path d="M340.7 89.3 L341.4 87.6 L342.1 85.9 L342.8 84.2 L343.4 82.6" stroke="rgb(151,151,151)" stroke-width="1.25"/>
<path d="M343.2 83.3 L343.9 81.7 L344.6 80.2 L345.2 78.7 L345.9 77.3" stroke="rgb(168,168,168)" stroke-width="1.25"/>
<path d="M345.7 77.9 L346.4 76.5 L347.1 75.2 L347.8 74.0 L348.4 72.8" stroke="rgb(185,185,185)" stroke-width="1.25"/>
<path d="M348.2 73.3 L348.9 72.2 L349.6 71.1 L350.2 70.2 L350.9 69.4" stroke="rgb(202,202,202)" stroke-width="1.25"/>
<path d="M350.7 69.7 L351.4 68.9 L352.1 68.3 L352.8 67.7 L353.4 67.3" stroke="rgb(208,208,208)" stroke-width="1.25"/>
<path d="M353.2 67.5 L353.9 67.1 L354.6 66.9 L355.2 66.8 L355.9 66.8" stroke="rgb(208,208,208)" stroke-width="1.25"/>
<path d="M355.7 66.8 L356.4 66.9 L357.1 67.2 L357.8 67.5 L358.4 68.0" stroke="rgb(208,208,208)" stroke-width="1.25"/>
<path d="M358.2 67.8 L358.9 68.4 L359.6 69.0 L360.2 69.8 L360.9 70.7" stroke="rgb(208,208,208)" stroke-width="1.25"/>
<path d="M360.7 70.3 L361.4 71.3 L362.1 72.3 L362.8 73.4 L363.4 74.7" stroke="rgb(196,196,196)" stroke-width="1.25"/>
<path d="M363.2 74.1 L363.9 75.4 L364.6 76.7 L365.2 78.1 L365.9 79.6" stroke="rgb(179,179,179)" stroke-width="1.25"/>
<path d="M365.7 78.9 L366.4 80.4 L367.1 81.9 L367.8 83.5 L368.4 85.2" stroke="rgb(162,162,162)" stroke-width="1.25"/>
<path d="M368.2 84.5 L368.9 86.1 L369.6 87.8 L370.2 89.5 L370.9 91.3" stroke="rgb(145,145,145)" stroke-width="1.25"/>
<path d="M370.7 90.5 L371.4 92.3 L372.1 94.1 L372.8 95.9 L373.4 97.8" stroke="rgb(128,128,128)" stroke-width="1.25"/>
<path d="M373.2 97.0 L373.9 98.9 L374.6 100.8 L375.2 102.7 L375.9 104.6" stroke="rgb(111,111,111)" stroke-width="1.25"/>
<path d="M375.7 103.8 L376.4 105.7 L377.1 107.7 L377.8 109.6 L378.4 111.6" stroke="rgb(99,99,99)" stroke-width="1.25"/>
<path d="M378.2 110.8 L378.9 112.7 L379.6 114.8 L380.2 116.8 L380.9 118.8" stroke="rgb(99,99,99)" stroke-width="1.25"/>
<path d="M380.7 117.9 L381.4 119.9 L382.1 122.0 L382.8 124.0 L383.4 126.1" stroke="rgb(99,99,99)" stroke-width="1.25"/>
<path d="M383.2 125.2 L383.9 127.3 L384.6 129.3 L385.2 131.4 L385.9 133.5" stroke="rgb(99,99,99)" stroke-width="1.25"/>
<path d="M385.7 132.6 L386.4 134.7 L387.1 136.8 L387.8 138.9 L388.4 141.0" stroke="rgb(99,99,99)" stroke-width="1.25"/>
<path d="M388.2 140.1 L388.9 142.2 L389.6 144.3 L390.2 146.4 L390.9 148.5" stroke="rgb(99,99,99)" stroke-width="1.25"/>
<path d="M390.7 147.6 L391.4 149.7 L392.1 151.9 L392.8 154.0 L393.4 156.1" stroke="rgb(99,99,99)" stroke-width="1.25"/>
<path d="M393.2 155.2 L393.9 157.4 L394.6 159.5 L395.2 161.6 L395.9 163.8" stroke="rgb(99,99,99)" stroke-width="1.25"/>
<path d="M395.7 162.9 L396.4 165.0 L397.1 167.2 L397.8 169.3 L398.4 171.5" stroke="rgb(99,99,99)" stroke-width="1.25"/>
<path d="M398.2 170.6 L398.9 172.7 L399.6 174.9 L400.2 177.0 L400.9 179.2" stroke="rgb(99,99,99)" stroke-width="1.25"/>
<path d="M400.7 178.3 L401.4 180.4 L402.1 182.6 L402.8 184.8 L403.4 187.0" stroke="rgb(99,99,99)" stroke-width="1.25"/>
<path d="M403.2 186.0 L403.8 188.0 L404.5 190.1 L405.1 192.1 L405.8 194.1" stroke="rgb(99,99,99)" stroke-width="1.25"/>
<path d="M305.7 158.4 L306.7 156.2 L307.8 154.1 L308.9 151.9 L309.9 149.8" stroke="rgb(153,153,153)" stroke-width="1.15"/>
<path d="M309.7 150.4 L310.7 148.3 L311.8 146.1 L312.9 144.0 L313.9 142.0" stroke="rgb(153,153,153)" stroke-width="1.15"/>
<path d="M313.7 142.5 L314.7 140.5 L315.8 138.4 L316.9 136.4 L317.9 134.3" stroke="rgb(153,153,153)" stroke-width="1.15"/>
<path d="M317.7 134.9 L318.7 132.9 L319.8 130.9 L320.9 128.9 L321.9 127.0" stroke="rgb(153,153,153)" stroke-width="1.15"/>
<path d="M321.7 127.5 L322.7 125.6 L323.8 123.7 L324.9 121.8 L325.9 120.0" stroke="rgb(153,153,153)" stroke-width="1.15"/>
<path d="M325.7 120.5 L326.7 118.7 L327.8 116.9 L328.9 115.1 L329.9 113.4" stroke="rgb(154,154,154)" stroke-width="1.15"/>
<path d="M329.7 113.9 L330.7 112.2 L331.8 110.5 L332.9 108.9 L333.9 107.3" stroke="rgb(168,168,168)" stroke-width="1.15"/>
<path d="M333.7 107.8 L334.7 106.2 L335.8 104.8 L336.9 103.3 L337.9 101.9" stroke="rgb(182,182,182)" stroke-width="1.15"/>
<path d="M337.7 102.3 L338.7 101.0 L339.8 99.7 L340.9 98.5 L341.9 97.3" stroke="rgb(195,195,195)" stroke-width="1.15"/>
<path d="M341.7 97.7 L342.7 96.6 L343.8 95.5 L344.9 94.6 L345.9 93.7" stroke="rgb(208,208,208)" stroke-width="1.15"/>
<path d="M345.7 94.0 L346.7 93.2 L347.8 92.4 L348.9 91.8 L349.9 91.3" stroke="rgb(208,208,208)" stroke-width="1.15"/>
<path d="M349.7 91.4 L350.7 90.9 L351.8 90.6 L352.9 90.3 L353.9 90.1" stroke="rgb(208,208,208)" stroke-width="1.15"/>
<path d="M353.7 90.1 L354.7 90.0 L355.8 90.0 L356.9 90.1 L357.9 90.3" stroke="rgb(208,208,208)" stroke-width="1.15"/>
<path d="M357.7 90.2 L358.7 90.5 L359.8 90.8 L360.9 91.3 L361.9 91.8" stroke="rgb(208,208,208)" stroke-width="1.15"/>
<path d="M361.7 91.7 L362.7 92.3 L363.8 93.0 L364.9 93.7 L365.9 94.6" stroke="rgb(208,208,208)" stroke-width="1.15"/>
<path d="M365.7 94.4 L366.7 95.3 L367.8 96.3 L368.9 97.4 L369.9 98.5" stroke="rgb(206,206,206)" stroke-width="1.15"/>
<path d="M369.7 98.2 L370.7 99.4 L371.8 100.6 L372.9 102.0 L373.9 103.4" stroke="rgb(193,193,193)" stroke-width="1.15"/>
<path d="M373.7 103.0 L374.7 104.4 L375.8 105.9 L376.9 107.4 L377.9 109.0" stroke="rgb(179,179,179)" stroke-width="1.15"/>
<path d="M377.7 108.5 L378.7 110.1 L379.8 111.8 L380.9 113.4 L381.9 115.2" stroke="rgb(165,165,165)" stroke-width="1.15"/>
<path d="M381.7 114.7 L382.7 116.4 L383.8 118.2 L384.9 120.0 L385.9 121.9" stroke="rgb(153,153,153)" stroke-width="1.15"/>
<path d="M385.7 121.4 L386.7 123.2 L387.8 125.1 L388.9 127.0 L389.9 129.0" stroke="rgb(153,153,153)" stroke-width="1.15"/>
<path d="M389.7 128.4 L390.7 130.4 L391.8 132.4 L392.9 134.4 L393.9 136.4" stroke="rgb(153,153,153)" stroke-width="1.15"/>
<path d="M393.7 135.8 L394.7 137.9 L395.8 139.9 L396.9 142.0 L397.9 144.1" stroke="rgb(153,153,153)" stroke-width="1.15"/>
<path d="M397.7 143.5 L398.7 145.6 L399.8 147.7 L400.9 149.8 L401.9 152.0" stroke="rgb(153,153,153)" stroke-width="1.15"/>
<path d="M401.7 151.4 L402.7 153.4 L403.7 155.5 L404.7 157.5 L405.8 159.6" stroke="rgb(153,153,153)" stroke-width="1.15"/>
<path d="M305.7 199.1 L308.2 191.9 L310.8 184.8 L313.4 177.8 L315.9 170.9" stroke="rgb(102,102,102)" stroke-width="0.80"/>
<path d="M315.7 171.7 L318.2 164.9 L320.8 158.2 L323.4 151.7 L325.9 145.4" stroke="rgb(105,105,105)" stroke-width="0.80"/>
<path d="M325.7 146.1 L328.2 140.0 L330.8 134.1 L333.4 128.5 L335.9 123.2" stroke="rgb(120,120,120)" stroke-width="0.80"/>
<path d="M335.7 123.8 L338.2 118.9 L340.8 114.4 L343.4 110.5 L345.9 107.2" stroke="rgb(136,136,136)" stroke-width="0.80"/>
<path d="M345.7 107.5 L348.2 104.8 L350.8 102.9 L353.4 101.8 L355.9 101.5" stroke="rgb(140,140,140)" stroke-width="0.80"/>
<path d="M355.7 101.5 L358.2 102.0 L360.8 103.4 L363.4 105.6 L365.9 108.5" stroke="rgb(140,140,140)" stroke-width="0.80"/>
<path d="M365.7 108.1 L368.2 111.6 L370.8 115.7 L373.4 120.3 L375.9 125.4" stroke="rgb(134,134,134)" stroke-width="0.80"/>
<path d="M375.7 124.8 L378.2 130.2 L380.8 135.9 L383.4 141.9 L385.9 148.1" stroke="rgb(119,119,119)" stroke-width="0.80"/>
<path d="M385.7 147.3 L388.2 153.7 L390.8 160.3 L393.4 167.0 L395.9 173.9" stroke="rgb(104,104,104)" stroke-width="0.80"/>
<path d="M395.7 173.1 L398.2 179.9 L400.7 186.8 L403.2 193.8 L405.8 200.8" stroke="rgb(102,102,102)" stroke-width="0.80"/>
<path d="M305.7 169.7 L308.2 164.7 L310.8 159.9 L313.4 155.1 L315.9 150.4" stroke="rgb(99,99,99)" stroke-width="1.10"/>
<path d="M315.7 151.0 L318.2 146.4 L320.8 142.0 L323.4 137.8 L325.9 133.7" stroke="rgb(102,102,102)" stroke-width="1.10"/>
<path d="M325.7 134.1 L328.2 130.2 L330.8 126.6 L333.4 123.1 L335.9 119.9" stroke="rgb(116,116,116)" stroke-width="1.10"/>
<path d="M335.7 120.3 L338.2 117.4 L340.8 114.8 L343.4 112.6 L345.9 110.8" stroke="rgb(129,129,129)" stroke-width="1.10"/>
<path d="M345.7 110.9 L348.2 109.5 L350.8 108.4 L353.4 107.8 L355.9 107.7" stroke="rgb(133,133,133)" stroke-width="1.10"/>
<path d="M355.7 107.7 L358.2 108.0 L360.8 108.7 L363.4 109.9 L365.9 111.5" stroke="rgb(133,133,133)" stroke-width="1.10"/>
<path d="M365.7 111.3 L368.2 113.2 L370.8 115.6 L373.4 118.3 L375.9 121.3" stroke="rgb(128,128,128)" stroke-width="1.10"/>
<path d="M375.7 120.9 L378.2 124.2 L380.8 127.7 L383.4 131.4 L385.9 135.4" stroke="rgb(114,114,114)" stroke-width="1.10"/>
<path d="M385.7 134.9 L388.2 139.1 L390.8 143.4 L393.4 147.8 L395.9 152.4" stroke="rgb(101,101,101)" stroke-width="1.10"/>
<path d="M395.7 151.9 L398.2 156.5 L400.7 161.2 L403.2 166.0 L405.8 170.9" stroke="rgb(99,99,99)" stroke-width="1.10"/>
<path d="M305.7 158.3 L308.2 154.4 L310.8 150.6 L313.4 146.9 L315.9 143.3" stroke="rgb(96,96,96)" stroke-width="1.10"/>
<path d="M315.7 143.7 L318.2 140.2 L320.8 136.9 L323.4 133.7 L325.9 130.6" stroke="rgb(99,99,99)" stroke-width="1.10"/>
<path d="M325.7 130.9 L328.2 128.0 L330.8 125.3 L333.4 122.8 L335.9 120.5" stroke="rgb(111,111,111)" stroke-width="1.10"/>
<path d="M335.7 120.8 L338.2 118.7 L340.8 116.9 L343.4 115.3 L345.9 114.0" stroke="rgb(123,123,123)" stroke-width="1.10"/>
<path d="M345.7 114.1 L348.2 113.1 L350.8 112.4 L353.4 112.0 L355.9 111.9" stroke="rgb(126,126,126)" stroke-width="1.10"/>
<path d="M355.7 111.9 L358.2 112.1 L360.8 112.6 L363.4 113.4 L365.9 114.5" stroke="rgb(126,126,126)" stroke-width="1.10"/>
<path d="M365.7 114.4 L368.2 115.8 L370.8 117.4 L373.4 119.3 L375.9 121.5" stroke="rgb(122,122,122)" stroke-width="1.10"/>
<path d="M375.7 121.2 L378.2 123.6 L380.8 126.2 L383.4 128.9 L385.9 131.9" stroke="rgb(110,110,110)" stroke-width="1.10"/>
<path d="M385.7 131.5 L388.2 134.6 L390.8 137.9 L393.4 141.3 L395.9 144.8" stroke="rgb(98,98,98)" stroke-width="1.10"/>
<path d="M395.7 144.4 L398.2 148.0 L400.7 151.6 L403.2 155.4 L405.8 159.3" stroke="rgb(96,96,96)" stroke-width="1.10"/>
<path d="M305.7 158.9 L308.2 155.4 L310.8 152.0 L313.4 148.7 L315.9 145.5" stroke="rgb(99,99,99)" stroke-width="1.20"/>
<path d="M315.7 145.8 L318.2 142.7 L320.8 139.8 L323.4 137.0 L325.9 134.3" stroke="rgb(102,102,102)" stroke-width="1.20"/>
<path d="M325.7 134.6 L328.2 132.1 L330.8 129.7 L333.4 127.6 L335.9 125.6" stroke="rgb(116,116,116)" stroke-width="1.20"/>
<path d="M335.7 125.8 L338.2 124.0 L340.8 122.5 L343.4 121.2 L345.9 120.1" stroke="rgb(129,129,129)" stroke-width="1.20"/>
<path d="M345.7 120.2 L348.2 119.3 L350.8 118.7 L353.4 118.4 L355.9 118.3" stroke="rgb(133,133,133)" stroke-width="1.20"/>
<path d="M355.7 118.3 L358.2 118.5 L360.8 118.9 L363.4 119.6 L365.9 120.5" stroke="rgb(133,133,133)" stroke-width="1.20"/>
<path d="M365.7 120.4 L368.2 121.5 L370.8 122.9 L373.4 124.6 L375.9 126.4" stroke="rgb(128,128,128)" stroke-width="1.20"/>
<path d="M375.7 126.2 L378.2 128.2 L380.8 130.4 L383.4 132.9 L385.9 135.4" stroke="rgb(114,114,114)" stroke-width="1.20"/>
<path d="M385.7 135.1 L388.2 137.8 L390.8 140.7 L393.4 143.7 L395.9 146.8" stroke="rgb(101,101,101)" stroke-width="1.20"/>
<path d="M395.7 146.5 L398.2 149.6 L400.7 152.9 L403.2 156.3 L405.8 159.7" stroke="rgb(99,99,99)" stroke-width="1.20"/>
<path d="M305.7 178.4 L308.2 173.7 L310.8 169.0 L313.4 164.4 L315.9 160.0" stroke="rgb(102,102,102)" stroke-width="1.20"/>
<path d="M315.7 160.5 L318.2 156.1 L320.8 152.0 L323.4 148.0 L325.9 144.2" stroke="rgb(105,105,105)" stroke-width="1.20"/>
<path d="M325.7 144.6 L328.2 141.0 L330.8 137.5 L333.4 134.4 L335.9 131.5" stroke="rgb(120,120,120)" stroke-width="1.20"/>
<path d="M335.7 131.8 L338.2 129.2 L340.8 126.8 L343.4 124.8 L345.9 123.2" stroke="rgb(136,136,136)" stroke-width="1.20"/>
<path d="M345.7 123.4 L348.2 122.1 L350.8 121.1 L353.4 120.6 L355.9 120.5" stroke="rgb(140,140,140)" stroke-width="1.20"/>
<path d="M355.7 120.5 L358.2 120.7 L360.8 121.4 L363.4 122.4 L365.9 123.9" stroke="rgb(140,140,140)" stroke-width="1.20"/>
<path d="M365.7 123.7 L368.2 125.4 L370.8 127.5 L373.4 130.0 L375.9 132.7" stroke="rgb(134,134,134)" stroke-width="1.20"/>
<path d="M375.7 132.4 L378.2 135.3 L380.8 138.6 L383.4 142.1 L385.9 145.8" stroke="rgb(119,119,119)" stroke-width="1.20"/>
<path d="M385.7 145.3 L388.2 149.2 L390.8 153.2 L393.4 157.5 L395.9 161.8" stroke="rgb(104,104,104)" stroke-width="1.20"/>
<path d="M395.7 161.3 L398.2 165.7 L400.7 170.2 L403.2 174.9 L405.8 179.6" stroke="rgb(102,102,102)" stroke-width="1.20"/>
<path d="M305.7 188.3 L308.2 183.4 L310.8 178.5 L313.4 173.8 L315.9 169.2" stroke="rgb(97,97,97)" stroke-width="1.10"/>
<path d="M315.7 169.8 L318.2 165.3 L320.8 161.0 L323.4 156.9 L325.9 153.0" stroke="rgb(100,100,100)" stroke-width="1.10"/>
<path d="M325.7 153.4 L328.2 149.7 L330.8 146.2 L333.4 143.0 L335.9 140.1" stroke="rgb(113,113,113)" stroke-width="1.10"/>
<path d="M335.7 140.4 L338.2 137.7 L340.8 135.3 L343.4 133.3 L345.9 131.6" stroke="rgb(125,125,125)" stroke-width="1.10"/>
<path d="M345.7 131.8 L348.2 130.5 L350.8 129.6 L353.4 129.0 L355.9 128.9" stroke="rgb(129,129,129)" stroke-width="1.10"/>
<path d="M355.7 128.9 L358.2 129.1 L360.8 129.8 L363.4 130.9 L365.9 132.3" stroke="rgb(129,129,129)" stroke-width="1.10"/>
<path d="M365.7 132.1 L368.2 133.9 L370.8 136.0 L373.4 138.5 L375.9 141.3" stroke="rgb(124,124,124)" stroke-width="1.10"/>
<path d="M375.7 140.9 L378.2 144.0 L380.8 147.3 L383.4 150.9 L385.9 154.6" stroke="rgb(112,112,112)" stroke-width="1.10"/>
<path d="M385.7 154.2 L388.2 158.2 L390.8 162.3 L393.4 166.7 L395.9 171.2" stroke="rgb(99,99,99)" stroke-width="1.10"/>
<path d="M395.7 170.6 L398.2 175.2 L400.7 179.8 L403.2 184.6 L405.8 189.5" stroke="rgb(97,97,97)" stroke-width="1.10"/>
<path d="M305.7 184.3 L308.2 180.0 L310.8 175.9 L313.4 171.8 L315.9 167.9" stroke="rgb(97,97,97)" stroke-width="1.10"/>
<path d="M315.7 168.3 L318.2 164.5 L320.8 160.9 L323.4 157.4 L325.9 154.1" stroke="rgb(100,100,100)" stroke-width="1.10"/>
<path d="M325.7 154.5 L328.2 151.4 L330.8 148.5 L333.4 145.8 L335.9 143.4" stroke="rgb(113,113,113)" stroke-width="1.10"/>
<path d="M335.7 143.6 L338.2 141.4 L340.8 139.5 L343.4 137.9 L345.9 136.5" stroke="rgb(125,125,125)" stroke-width="1.10"/>
<path d="M345.7 136.7 L348.2 135.6 L350.8 134.8 L353.4 134.4 L355.9 134.3" stroke="rgb(129,129,129)" stroke-width="1.10"/>
<path d="M355.7 134.3 L358.2 134.5 L360.8 135.0 L363.4 135.9 L365.9 137.0" stroke="rgb(129,129,129)" stroke-width="1.10"/>
<path d="M365.7 136.9 L368.2 138.3 L370.8 140.1 L373.4 142.1 L375.9 144.4" stroke="rgb(124,124,124)" stroke-width="1.10"/>
<path d="M375.7 144.1 L378.2 146.6 L380.8 149.4 L383.4 152.3 L385.9 155.5" stroke="rgb(112,112,112)" stroke-width="1.10"/>
<path d="M385.7 155.1 L388.2 158.5 L390.8 162.0 L393.4 165.7 L395.9 169.5" stroke="rgb(99,99,99)" stroke-width="1.10"/>
<path d="M395.7 169.1 L398.2 173.0 L400.7 177.0 L403.2 181.1 L405.8 185.4" stroke="rgb(97,97,97)" stroke-width="1.10"/>
<path d="M305.7 185.7 L308.2 181.9 L310.8 178.1 L313.4 174.4 L315.9 170.9" stroke="rgb(97,97,97)" stroke-width="1.10"/>
<path d="M315.7 171.3 L318.2 167.9 L320.8 164.7 L323.4 161.6 L325.9 158.7" stroke="rgb(100,100,100)" stroke-width="1.10"/>
<path d="M325.7 159.0 L328.2 156.3 L330.8 153.7 L333.4 151.4 L335.9 149.2" stroke="rgb(113,113,113)" stroke-width="1.10"/>
<path d="M335.7 149.5 L338.2 147.6 L340.8 145.9 L343.4 144.5 L345.9 143.3" stroke="rgb(125,125,125)" stroke-width="1.10"/>
<path d="M345.7 143.4 L348.2 142.5 L350.8 141.9 L353.4 141.5 L355.9 141.4" stroke="rgb(129,129,129)" stroke-width="1.10"/>
<path d="M355.7 141.4 L358.2 141.6 L360.8 142.0 L363.4 142.8 L365.9 143.8" stroke="rgb(129,129,129)" stroke-width="1.10"/>
<path d="M365.7 143.6 L368.2 144.9 L370.8 146.4 L373.4 148.1 L375.9 150.1" stroke="rgb(124,124,124)" stroke-width="1.10"/>
<path d="M375.7 149.9 L378.2 152.1 L380.8 154.5 L383.4 157.1 L385.9 159.9" stroke="rgb(112,112,112)" stroke-width="1.10"/>
<path d="M385.7 159.6 L388.2 162.5 L390.8 165.7 L393.4 168.9 L395.9 172.4" stroke="rgb(99,99,99)" stroke-width="1.10"/>
<path d="M395.7 172.0 L398.2 175.5 L400.7 179.1 L403.2 182.8 L405.8 186.7" stroke="rgb(97,97,97)" stroke-width="1.10"/>
<path d="M305.7 187.2 L308.2 183.6 L310.8 180.1 L313.4 176.8 L315.9 173.5" stroke="rgb(99,99,99)" stroke-width="1.20"/>
<path d="M315.7 173.9 L318.2 170.8 L320.8 167.8 L323.4 165.0 L325.9 162.3" stroke="rgb(102,102,102)" stroke-width="1.20"/>
<path d="M325.7 162.6 L328.2 160.1 L330.8 157.8 L333.4 155.7 L335.9 153.7" stroke="rgb(116,116,116)" stroke-width="1.20"/>
<path d="M335.7 154.0 L338.2 152.2 L340.8 150.7 L343.4 149.4 L345.9 148.4" stroke="rgb(129,129,129)" stroke-width="1.20"/>
<path d="M345.7 148.5 L348.2 147.7 L350.8 147.1 L353.4 146.8 L355.9 146.7" stroke="rgb(133,133,133)" stroke-width="1.20"/>
<path d="M355.7 146.7 L358.2 146.9 L360.8 147.3 L363.4 147.9 L365.9 148.8" stroke="rgb(133,133,133)" stroke-width="1.20"/>
<path d="M365.7 148.7 L368.2 149.8 L370.8 151.2 L373.4 152.7 L375.9 154.5" stroke="rgb(128,128,128)" stroke-width="1.20"/>
<path d="M375.7 154.3 L378.2 156.3 L380.8 158.5 L383.4 160.9 L385.9 163.4" stroke="rgb(114,114,114)" stroke-width="1.20"/>
<path d="M385.7 163.1 L388.2 165.8 L390.8 168.7 L393.4 171.7 L395.9 174.9" stroke="rgb(101,101,101)" stroke-width="1.20"/>
<path d="M395.7 174.5 L398.2 177.7 L400.7 181.1 L403.2 184.5 L405.8 188.1" stroke="rgb(99,99,99)" stroke-width="1.20"/>
<path d="M305.7 196.8 L308.2 192.8 L310.8 189.0 L313.4 185.2 L315.9 181.7" stroke="rgb(108,108,108)" stroke-width="1.20"/>
<path d="M315.7 182.1 L318.2 178.6 L320.8 175.3 L323.4 172.2 L325.9 169.3" stroke="rgb(112,112,112)" stroke-width="1.20"/>
<path d="M325.7 169.6 L328.2 166.8 L330.8 164.3 L333.4 161.9 L335.9 159.8" stroke="rgb(130,130,130)" stroke-width="1.20"/>
<path d="M335.7 160.0 L338.2 158.1 L340.8 156.4 L343.4 155.0 L345.9 153.8" stroke="rgb(148,148,148)" stroke-width="1.20"/>
<path d="M345.7 153.9 L348.2 153.0 L350.8 152.4 L353.4 152.0 L355.9 151.9" stroke="rgb(153,153,153)" stroke-width="1.20"/>
<path d="M355.7 151.9 L358.2 152.1 L360.8 152.5 L363.4 153.3 L365.9 154.3" stroke="rgb(153,153,153)" stroke-width="1.20"/>
<path d="M365.7 154.1 L368.2 155.4 L370.8 156.9 L373.4 158.6 L375.9 160.6" stroke="rgb(147,147,147)" stroke-width="1.20"/>
<path d="M375.7 160.4 L378.2 162.6 L380.8 165.0 L383.4 167.7 L385.9 170.5" stroke="rgb(129,129,129)" stroke-width="1.20"/>
<path d="M385.7 170.2 L388.2 173.2 L390.8 176.3 L393.4 179.7 L395.9 183.2" stroke="rgb(111,111,111)" stroke-width="1.20"/>
<path d="M395.7 182.8 L398.2 186.3 L400.7 190.0 L403.2 193.8 L405.8 197.7" stroke="rgb(108,108,108)" stroke-width="1.20"/>
<path d="M305.7 195.6 L306.7 194.1 L307.8 192.6 L308.9 191.2 L309.9 189.7" stroke="rgb(140,140,140)" stroke-width="1.50"/>
<path d="M309.7 190.1 L310.7 188.7 L311.8 187.3 L312.9 186.0 L313.9 184.6" stroke="rgb(152,152,152)" stroke-width="1.50"/>
<path d="M313.7 185.0 L314.7 183.7 L315.8 182.4 L316.9 181.1 L317.9 179.8" stroke="rgb(206,206,206)" stroke-width="1.50"/>
<path d="M317.7 180.2 L318.7 178.9 L319.8 177.7 L320.9 176.6 L321.9 175.4" stroke="rgb(228,228,228)" stroke-width="1.50"/>
<path d="M321.7 175.7 L322.7 174.6 L323.8 173.5 L324.9 172.4 L325.9 171.3" stroke="rgb(228,228,228)" stroke-width="1.50"/>
<path d="M325.7 171.6 L326.7 170.6 L327.8 169.6 L328.9 168.6 L329.9 167.7" stroke="rgb(228,228,228)" stroke-width="1.50"/>
<path d="M329.7 168.0 L330.7 167.1 L331.8 166.2 L332.9 165.3 L333.9 164.5" stroke="rgb(228,228,228)" stroke-width="1.50"/>
<path d="M333.7 164.8 L334.7 164.0 L335.8 163.2 L336.9 162.5 L337.9 161.8" stroke="rgb(215,215,215)" stroke-width="1.50"/>
<path d="M337.7 162.0 L338.7 161.4 L339.8 160.8 L340.9 160.2 L341.9 159.7" stroke="rgb(193,193,193)" stroke-width="1.50"/>
<path d="M341.7 159.8 L342.7 159.3 L343.8 158.8 L344.9 158.4 L345.9 158.0" stroke="rgb(174,174,174)" stroke-width="1.50"/>
<path d="M345.7 158.1 L346.7 157.8 L347.8 157.4 L348.9 157.2 L349.9 156.9" stroke="rgb(174,174,174)" stroke-width="1.50"/>
<path d="M349.7 157.0 L350.7 156.8 L351.8 156.6 L352.9 156.5 L353.9 156.4" stroke="rgb(174,174,174)" stroke-width="1.50"/>
<path d="M353.7 156.5 L354.7 156.4 L355.8 156.4 L356.9 156.4 L357.9 156.5" stroke="rgb(174,174,174)" stroke-width="1.50"/>
<path d="M357.7 156.5 L358.7 156.6 L359.8 156.8 L360.9 156.9 L361.9 157.2" stroke="rgb(174,174,174)" stroke-width="1.50"/>
<path d="M361.7 157.1 L362.7 157.4 L363.8 157.7 L364.9 158.0 L365.9 158.4" stroke="rgb(174,174,174)" stroke-width="1.50"/>
<path d="M365.7 158.3 L366.7 158.7 L367.8 159.2 L368.9 159.7 L369.9 160.2" stroke="rgb(176,176,176)" stroke-width="1.50"/>
<path d="M369.7 160.1 L370.7 160.6 L371.8 161.2 L372.9 161.9 L373.9 162.5" stroke="rgb(197,197,197)" stroke-width="1.50"/>
<path d="M373.7 162.3 L374.7 163.0 L375.8 163.8 L376.9 164.6 L377.9 165.4" stroke="rgb(219,219,219)" stroke-width="1.50"/>
<path d="M377.7 165.1 L378.7 166.0 L379.8 166.8 L380.9 167.7 L381.9 168.7" stroke="rgb(228,228,228)" stroke-width="1.50"/>
<path d="M381.7 168.4 L382.7 169.4 L383.8 170.4 L384.9 171.4 L385.9 172.4" stroke="rgb(228,228,228)" stroke-width="1.50"/>
<path d="M385.7 172.1 L386.7 173.2 L387.8 174.3 L388.9 175.4 L389.9 176.6" stroke="rgb(228,228,228)" stroke-width="1.50"/>
<path d="M389.7 176.3 L390.7 177.4 L391.8 178.6 L392.9 179.9 L393.9 181.1" stroke="rgb(228,228,228)" stroke-width="1.50"/>
<path d="M393.7 180.8 L394.7 182.0 L395.8 183.3 L396.9 184.7 L397.9 186.0" stroke="rgb(195,195,195)" stroke-width="1.50"/>
<path d="M397.7 185.6 L398.7 187.0 L399.8 188.4 L400.9 189.8 L401.9 191.2" stroke="rgb(141,141,141)" stroke-width="1.50"/>
<path d="M401.7 190.8 L402.7 192.2 L403.7 193.6 L404.7 195.0 L405.8 196.4" stroke="rgb(140,140,140)" stroke-width="1.50"/>
<path d="M305.8 191.3 L308.3 188.7 L310.8 186.2 L313.3 183.8 L315.8 181.5 L318.3 179.2 L320.8 177.0 L323.3 174.8 L325.8 172.8 L328.3 170.9 L330.8 169.0 L333.2 167.3 L335.7 165.8 L338.2 164.3 L340.7 163.1 L343.2 162.0 L345.7 161.0 L348.2 160.3 L350.7 159.8 L353.2 159.5 L355.7 159.4 L358.2 159.5 L360.7 159.9 L363.2 160.5 L365.7 161.2 L368.2 162.2 L370.7 163.4 L373.2 164.7 L375.7 166.1 L378.2 167.7 L380.7 169.5 L383.1 171.3 L385.6 173.3 L388.1 175.3 L390.6 177.5 L393.1 179.7 L395.6 182.0 L398.1 184.4 L400.6 186.8 L403.1 189.3 L405.6 192.0" stroke="rgb(153,153,153)" stroke-width="1.20"/>
<path d="M305.8 192.5 L308.3 189.8 L310.8 187.2 L313.3 184.7 L315.8 182.4 L318.3 180.1 L320.8 178.0 L323.3 175.9 L325.8 174.0 L328.3 172.3 L330.8 170.6 L333.2 169.1 L335.7 167.8 L338.2 166.6 L340.7 165.6 L343.2 164.7 L345.7 164.0 L348.2 163.4 L350.7 163.0 L353.2 162.8 L355.7 162.7 L358.2 162.8 L360.7 163.1 L363.2 163.5 L365.7 164.1 L368.2 164.9 L370.7 165.8 L373.2 166.9 L375.7 168.1 L378.2 169.5 L380.7 171.0 L383.1 172.7 L385.6 174.5 L388.1 176.4 L390.6 178.5 L393.1 180.6 L395.6 182.9 L398.1 185.3 L400.6 187.8 L403.1 190.4 L405.6 193.1" stroke="rgb(126,126,126)" stroke-width="0.80"/>
<path d="M305.8 201.4 L308.3 199.4 L310.8 197.5 L313.3 195.6 L315.8 193.8 L318.3 192.2 L320.8 190.6 L323.3 189.1 L325.8 187.7 L328.3 186.4 L330.8 185.2 L333.2 184.1 L335.7 183.2 L338.2 182.3 L340.7 181.5 L343.2 180.9 L345.7 180.4 L348.2 180.0 L350.7 179.7 L353.2 179.5 L355.7 179.5 L358.2 179.6 L360.7 179.8 L363.2 180.1 L365.7 180.5 L368.2 181.1 L370.7 181.7 L373.2 182.5 L375.7 183.4 L378.2 184.4 L380.7 185.5 L383.1 186.7 L385.6 188.0 L388.1 189.4 L390.6 190.9 L393.1 192.6 L395.6 194.3 L398.1 196.1 L400.6 197.9 L403.1 199.9 L405.6 201.9" stroke="rgb(112,112,112)" stroke-width="1.30"/>
<path d="M305.8 207.8 L308.3 205.7 L310.8 203.7 L313.3 201.8 L315.8 200.0 L318.3 198.3 L320.8 196.7 L323.3 195.2 L325.8 193.8 L328.3 192.4 L330.8 191.2 L333.2 190.1 L335.7 189.1 L338.2 188.2 L340.7 187.5 L343.2 186.8 L345.7 186.3 L348.2 185.9 L350.7 185.6 L353.2 185.4 L355.7 185.4 L358.2 185.5 L360.7 185.7 L363.2 186.0 L365.7 186.4 L368.2 187.0 L370.7 187.7 L373.2 188.5 L375.7 189.4 L378.2 190.4 L380.7 191.5 L383.1 192.7 L385.6 194.1 L388.1 195.5 L390.6 197.1 L393.1 198.7 L395.6 200.5 L398.1 202.3 L400.6 204.2 L403.1 206.2 L405.6 208.3" stroke="rgb(126,126,126)" stroke-width="1.40"/>
<path d="M305.8 216.0 L308.3 213.7 L310.8 211.4 L313.3 209.3 L315.8 207.2 L318.3 205.3 L320.8 203.4 L323.3 201.7 L325.8 200.1 L328.3 198.6 L330.8 197.2 L333.2 196.0 L335.7 194.8 L338.2 193.8 L340.7 193.0 L343.2 192.2 L345.7 191.6 L348.2 191.2 L350.7 190.8 L353.2 190.7 L355.7 190.6 L358.2 190.7 L360.7 190.9 L363.2 191.3 L365.7 191.8 L368.2 192.4 L370.7 193.2 L373.2 194.1 L375.7 195.1 L378.2 196.3 L380.7 197.6 L383.1 199.0 L385.6 200.5 L388.1 202.1 L390.6 203.9 L393.1 205.7 L395.6 207.7 L398.1 209.8 L400.6 212.0 L403.1 214.2 L405.6 216.6" stroke="rgb(126,126,126)" stroke-width="1.40"/>
<path d="M305.8 220.3 L308.3 218.3 L310.8 216.3 L313.3 214.5 L315.8 212.7 L318.3 211.0 L320.8 209.4 L323.3 207.9 L325.8 206.5 L328.3 205.2 L330.8 204.0 L333.2 202.9 L335.7 201.9 L338.2 201.1 L340.7 200.3 L343.2 199.7 L345.7 199.2 L348.2 198.8 L350.7 198.5 L353.2 198.3 L355.7 198.3 L358.2 198.4 L360.7 198.6 L363.2 198.9 L365.7 199.3 L368.2 199.8 L370.7 200.5 L373.2 201.3 L375.7 202.2 L378.2 203.2 L380.7 204.3 L383.1 205.5 L385.6 206.8 L388.1 208.2 L390.6 209.8 L393.1 211.4 L395.6 213.1 L398.1 214.9 L400.6 216.8 L403.1 218.8 L405.6 220.8" stroke="rgb(126,126,126)" stroke-width="1.40"/>
<path d="M305.8 224.1 L308.3 222.3 L310.8 220.6 L313.3 219.0 L315.8 217.4 L318.3 215.9 L320.8 214.6 L323.3 213.3 L325.8 212.1 L328.3 210.9 L330.8 209.9 L333.2 209.0 L335.7 208.1 L338.2 207.4 L340.7 206.8 L343.2 206.2 L345.7 205.8 L348.2 205.4 L350.7 205.2 L353.2 205.0 L355.7 205.0 L358.2 205.1 L360.7 205.2 L363.2 205.5 L365.7 205.9 L368.2 206.3 L370.7 206.9 L373.2 207.6 L375.7 208.3 L378.2 209.2 L380.7 210.1 L383.1 211.2 L385.6 212.3 L388.1 213.6 L390.6 214.9 L393.1 216.3 L395.6 217.8 L398.1 219.4 L400.6 221.0 L403.1 222.7 L405.6 224.5" stroke="rgb(106,106,106)" stroke-width="1.30"/>
<path d="M305.7 260.2 L306.7 258.4 L307.8 256.7 L308.9 254.9 L309.9 253.2" stroke="rgb(112,112,112)" stroke-width="1.40"/>
<path d="M309.7 253.7 L310.7 252.0 L311.8 250.3 L312.9 248.7 L313.9 247.1" stroke="rgb(112,112,112)" stroke-width="1.40"/>
<path d="M313.7 247.5 L314.7 245.9 L315.8 244.4 L316.9 242.8 L317.9 241.3" stroke="rgb(112,112,112)" stroke-width="1.40"/>
<path d="M317.7 241.7 L318.7 240.3 L319.8 238.8 L320.9 237.4 L321.9 236.0" stroke="rgb(112,112,112)" stroke-width="1.40"/>
<path d="M321.7 236.4 L322.7 235.1 L323.8 233.8 L324.9 232.5 L325.9 231.2" stroke="rgb(112,112,112)" stroke-width="1.40"/>
<path d="M325.7 231.6 L326.7 230.4 L327.8 229.2 L328.9 228.0 L329.9 226.9" stroke="rgb(112,112,112)" stroke-width="1.40"/>
<path d="M329.7 227.2 L330.7 226.2 L331.8 225.1 L332.9 224.1 L333.9 223.2" stroke="rgb(115,115,115)" stroke-width="1.40"/>
<path d="M333.7 223.5 L334.7 222.5 L335.8 221.7 L336.9 220.8 L337.9 220.0" stroke="rgb(142,142,142)" stroke-width="1.40"/>
<path d="M337.7 220.3 L338.7 219.5 L339.8 218.8 L340.9 218.1 L341.9 217.5" stroke="rgb(167,167,167)" stroke-width="1.40"/>
<path d="M341.7 217.7 L342.7 217.1 L343.8 216.5 L344.9 216.0 L345.9 215.6" stroke="rgb(167,167,167)" stroke-width="1.40"/>
<path d="M345.7 215.7 L346.7 215.3 L347.8 214.9 L348.9 214.6 L349.9 214.3" stroke="rgb(167,167,167)" stroke-width="1.40"/>
<path d="M349.7 214.4 L350.7 214.2 L351.8 214.0 L352.9 213.8 L353.9 213.7" stroke="rgb(167,167,167)" stroke-width="1.40"/>
<path d="M353.7 213.8 L354.7 213.7 L355.8 213.7 L356.9 213.7 L357.9 213.8" stroke="rgb(167,167,167)" stroke-width="1.40"/>
<path d="M357.7 213.8 L358.7 213.9 L359.8 214.1 L360.9 214.3 L361.9 214.6" stroke="rgb(167,167,167)" stroke-width="1.40"/>
<path d="M361.7 214.5 L362.7 214.8 L363.8 215.2 L364.9 215.6 L365.9 216.0" stroke="rgb(167,167,167)" stroke-width="1.40"/>
<path d="M365.7 215.9 L366.7 216.4 L367.8 216.9 L368.9 217.5 L369.9 218.1" stroke="rgb(167,167,167)" stroke-width="1.40"/>
<path d="M369.7 217.9 L370.7 218.6 L371.8 219.3 L372.9 220.1 L373.9 220.8" stroke="rgb(164,164,164)" stroke-width="1.40"/>
<path d="M373.7 220.6 L374.7 221.4 L375.8 222.3 L376.9 223.2 L377.9 224.2" stroke="rgb(137,137,137)" stroke-width="1.40"/>
<path d="M377.7 223.9 L378.7 224.9 L379.8 225.9 L380.9 227.0 L381.9 228.1" stroke="rgb(112,112,112)" stroke-width="1.40"/>
<path d="M381.7 227.8 L382.7 228.9 L383.8 230.1 L384.9 231.3 L385.9 232.5" stroke="rgb(112,112,112)" stroke-width="1.40"/>
<path d="M385.7 232.1 L386.7 233.4 L387.8 234.7 L388.9 236.1 L389.9 237.4" stroke="rgb(112,112,112)" stroke-width="1.40"/>
<path d="M389.7 237.1 L390.7 238.5 L391.8 239.9 L392.9 241.4 L393.9 242.9" stroke="rgb(112,112,112)" stroke-width="1.40"/>
<path d="M393.7 242.4 L394.7 244.0 L395.8 245.5 L396.9 247.1 L397.9 248.7" stroke="rgb(112,112,112)" stroke-width="1.40"/>
<path d="M397.7 248.3 L398.7 249.9 L399.8 251.6 L400.9 253.2 L401.9 255.0" stroke="rgb(112,112,112)" stroke-width="1.40"/>
<path d="M401.7 254.5 L402.7 256.1 L403.7 257.8 L404.7 259.5 L405.8 261.3" stroke="rgb(112,112,112)" stroke-width="1.40"/>
</g>
</g>
<polygon points="368.5,104.6 377.0,104.6 357.7,111.6" fill="#fff"/>
<rect x="361.6" y="83.9" width="40.7" height="20.7" fill="#fff"/>
<line x1="361.6" x2="402.3" y1="88.1" y2="88.1" stroke="#8c8c8c" stroke-width="1.1"/>
<line x1="361.6" x2="402.3" y1="96.3" y2="96.3" stroke="#8c8c8c" stroke-width="1.1"/>
<line x1="361.6" x2="402.3" y1="101.9" y2="101.9" stroke="#8c8c8c" stroke-width="1.1"/>
<line x1="361.6" x2="402.3" y1="104.4" y2="104.4" stroke="#b8b8b8" stroke-width="1.1"/>
<path d="M366.3 84.1 L377.0 96.3 L381.5 89.7 L387.6 96.3 L395.0 85.6" fill="none" stroke="#1a1a1a" stroke-width="1.0"/>
<path d="M396.9 83.6 L392.9 85.7 L396.3 88.5 Z" fill="#1a1a1a"/>
<text x="395.8" y="103.5" font-size="8.6" text-anchor="middle" fill="#e03858" style="font-family:'Liberation Sans',sans-serif">3</text>
<polygon points="332.5,144.9 340.7,144.9 353.9,151.8" fill="#fff"/>
<rect x="308.9" y="124.1" width="39.2" height="20.8" fill="#fff"/>
<line x1="308.9" x2="348.1" y1="128.7" y2="128.7" stroke="#8c8c8c" stroke-width="1.1"/>
<line x1="308.9" x2="348.1" y1="135.8" y2="135.8" stroke="#8c8c8c" stroke-width="1.1"/>
<line x1="308.9" x2="348.1" y1="141.1" y2="141.1" stroke="#8c8c8c" stroke-width="1.1"/>
<path d="M313.7 124.9 L321.8 135.3 L329.0 125.1 L336.1 135.3 L343.4 126.1" fill="none" stroke="#1a1a1a" stroke-width="1.0"/>
<path d="M345.2 124.0 L341.2 126.0 L344.6 128.9 Z" fill="#1a1a1a"/>
<text x="341.7" y="141.0" font-size="8.6" text-anchor="middle" fill="#e03858" style="font-family:'Liberation Sans',sans-serif">2</text>
<rect x="306.8" y="28.1" width="97.8" height="195.7" fill="none" stroke="#2e2a2c" stroke-width="1.5"/>
<line x1="331.2" y1="28.1" x2="331.2" y2="34.1" stroke="#2e2a2c" stroke-width="1.1"/>
<line x1="355.7" y1="28.1" x2="355.7" y2="34.1" stroke="#2e2a2c" stroke-width="1.1"/>
<line x1="380.2" y1="28.1" x2="380.2" y2="34.1" stroke="#2e2a2c" stroke-width="1.1"/>
<line x1="306.8" y1="67.5" x2="312.8" y2="67.5" stroke="#2e2a2c" stroke-width="1.1"/>
<line x1="306.8" y1="106.4" x2="312.8" y2="106.4" stroke="#2e2a2c" stroke-width="1.1"/>
<line x1="306.8" y1="145.6" x2="312.8" y2="145.6" stroke="#2e2a2c" stroke-width="1.1"/>
<line x1="306.8" y1="184.8" x2="312.8" y2="184.8" stroke="#2e2a2c" stroke-width="1.1"/>
<text x="302.2" y="33.8" font-size="13.2" text-anchor="end" fill="#222"  textLength="15.5" lengthAdjust="spacingAndGlyphs">0.0</text>
<text x="302.2" y="71.8" font-size="13.2" text-anchor="end" fill="#222"  textLength="15.5" lengthAdjust="spacingAndGlyphs">0.5</text>
<text x="302.2" y="110.8" font-size="13.2" text-anchor="end" fill="#222"  textLength="15.5" lengthAdjust="spacingAndGlyphs">1.0</text>
<text x="302.2" y="149.6" font-size="13.2" text-anchor="end" fill="#222"  textLength="15.5" lengthAdjust="spacingAndGlyphs">1.5</text>
<text x="302.2" y="188.7" font-size="13.2" text-anchor="end" fill="#222"  textLength="15.5" lengthAdjust="spacingAndGlyphs">2.0</text>
<text x="302.2" y="230.2" font-size="13.2" text-anchor="end" fill="#222"  textLength="15.5" lengthAdjust="spacingAndGlyphs">2.5</text>
<text transform="translate(281.2 128.7) rotate(-90)" font-size="13" letter-spacing="0.4" text-anchor="middle" fill="#222" >Times (s)</text>
<text x="308.4" y="25.8" font-size="12.8" text-anchor="middle" fill="#222"  ><tspan font-size="11.5" dy="-0.2">−</tspan><tspan dy="0.2" dx="0.7">3.0</tspan></text>
<text x="331.4" y="25.8" font-size="12.8" text-anchor="middle" fill="#222"  ><tspan font-size="11.5" dy="-0.2">−</tspan><tspan dy="0.2" dx="0.7">1.5</tspan></text>
<text x="355.5" y="25.8" font-size="12.8" text-anchor="middle" fill="#222"  >0.0</text>
<text x="380.9" y="25.8" font-size="12.8" text-anchor="middle" fill="#222"  >1.5</text>
<text x="405.5" y="25.8" font-size="12.8" text-anchor="middle" fill="#222"  >3.0</text>
<text x="358.0" y="11.4" font-size="12.2" text-anchor="middle" fill="#222"  letter-spacing="0.2">Offset (km)</text>
<text x="353.8" y="245.2" font-size="12.5" text-anchor="middle" fill="#222"  letter-spacing="0.3">(c)</text>
<rect x="441.6" y="30.1" width="98.2" height="195.7" fill="#332c8c"/>
<ellipse cx="458.9" cy="69.2" rx="5.8" ry="6.2" fill="url(#gg)" opacity="1.00"/>
<ellipse cx="480.2" cy="94.2" rx="6.0" ry="4.7" fill="url(#gy2)" opacity="1.00"/>
<ellipse cx="458.9" cy="108.7" rx="5.0" ry="3.1" fill="url(#gc)" opacity="0.85"/>
<ellipse cx="489.5" cy="118.5" rx="5.6" ry="3.7" fill="url(#gc)" opacity="0.95"/>
<ellipse cx="474.2" cy="123.2" rx="5.6" ry="3.8" fill="url(#gc)" opacity="0.95"/>
<ellipse cx="472.1" cy="133.4" rx="4.8" ry="3.0" fill="url(#gc)" opacity="0.80"/>
<ellipse cx="482.4" cy="148.0" rx="5.5" ry="3.6" fill="url(#gc)" opacity="0.95"/>
<ellipse cx="471.5" cy="152.4" rx="3.6" ry="2.6" fill="url(#gb)" opacity="1.00"/>
<ellipse cx="468.9" cy="163.0" rx="3.2" ry="2.2" fill="url(#gb)" opacity="0.50"/>
<ellipse cx="480.2" cy="157.9" rx="6.0" ry="3.6" fill="url(#gy3)" opacity="1.00"/>
<ellipse cx="491.4" cy="161.8" rx="5.6" ry="3.6" fill="url(#gc)" opacity="1.00"/>
<ellipse cx="536.0" cy="159.5" rx="4.0" ry="3.5" fill="url(#gb)" opacity="0.80"/>
<ellipse cx="494.5" cy="186.0" rx="5.0" ry="3.3" fill="url(#gb)" opacity="1.00" transform="rotate(15 494.5 186.0)"/>
<ellipse cx="485.0" cy="191.0" rx="5.0" ry="3.5" fill="url(#gb)" opacity="1.00"/>
<ellipse cx="483.0" cy="201.0" rx="5.0" ry="3.3" fill="url(#gb)" opacity="1.00"/>
<ellipse cx="501.0" cy="200.0" rx="5.5" ry="3.2" fill="url(#gb)" opacity="1.00" transform="rotate(15 501.0 200.0)"/>
<ellipse cx="491.4" cy="215.5" rx="5.5" ry="3.0" fill="url(#gb)" opacity="1.00" transform="rotate(12 491.4 215.5)"/>
<ellipse cx="474.1" cy="216.7" rx="6.0" ry="3.9" fill="url(#gn)" opacity="1.00"/>
<path d="M503.9 112.0 L496.0 117.9" stroke="#333" stroke-width="0.9" fill="none"/>
<polygon points="502.2,112.0 505.6,112.0 500.3,114.7" fill="#fff" stroke="#444" stroke-width="0.5"/>
<rect x="500.9" y="101.3" width="14.9" height="10.7" fill="#fff" stroke="#3a3a3a" stroke-width="0.7"/>
<line x1="502.6" y1="112.0" x2="505.2" y2="112.0" stroke="#fff" stroke-width="1.2"/>
<text x="508.3" y="109.9" font-size="9.0" font-weight="normal" text-anchor="middle" fill="#e23c5c" style="font-family:'Liberation Sans',sans-serif">3</text>
<path d="M465.7 151.8 L473.7 157.3" stroke="#333" stroke-width="0.9" fill="none"/>
<polygon points="464.0,151.8 467.4,151.8 469.3,154.3" fill="#fff" stroke="#444" stroke-width="0.5"/>
<rect x="454.5" y="141.3" width="15.7" height="10.5" fill="#fff" stroke="#3a3a3a" stroke-width="0.7"/>
<line x1="464.4" y1="151.8" x2="467.0" y2="151.8" stroke="#fff" stroke-width="1.2"/>
<text x="462.4" y="149.8" font-size="9.0" font-weight="normal" text-anchor="middle" fill="#e23c5c" style="font-family:'Liberation Sans',sans-serif">2</text>
<rect x="441.6" y="30.1" width="98.2" height="195.7" fill="none" stroke="#1c1836" stroke-width="1.5"/>
<line x1="466.1" y1="30.1" x2="466.1" y2="35.7" stroke="#1c1836" stroke-width="1.0"/>
<line x1="490.7" y1="30.1" x2="490.7" y2="35.7" stroke="#1c1836" stroke-width="1.0"/>
<line x1="515.2" y1="30.1" x2="515.2" y2="35.7" stroke="#1c1836" stroke-width="1.0"/>
<line x1="441.6" y1="67.5" x2="447.2" y2="67.5" stroke="#1c1836" stroke-width="1.0"/>
<line x1="441.6" y1="106.4" x2="447.2" y2="106.4" stroke="#1c1836" stroke-width="1.0"/>
<line x1="441.6" y1="145.6" x2="447.2" y2="145.6" stroke="#1c1836" stroke-width="1.0"/>
<line x1="441.6" y1="184.8" x2="447.2" y2="184.8" stroke="#1c1836" stroke-width="1.0"/>
<text x="438.2" y="33.8" font-size="13.2" text-anchor="end" fill="#222"  textLength="15.5" lengthAdjust="spacingAndGlyphs">0.0</text>
<text x="438.2" y="71.8" font-size="13.2" text-anchor="end" fill="#222"  textLength="15.5" lengthAdjust="spacingAndGlyphs">0.5</text>
<text x="438.2" y="110.8" font-size="13.2" text-anchor="end" fill="#222"  textLength="15.5" lengthAdjust="spacingAndGlyphs">1.0</text>
<text x="438.2" y="149.6" font-size="13.2" text-anchor="end" fill="#222"  textLength="15.5" lengthAdjust="spacingAndGlyphs">1.5</text>
<text x="438.2" y="188.7" font-size="13.2" text-anchor="end" fill="#222"  textLength="15.5" lengthAdjust="spacingAndGlyphs">2.0</text>
<text x="438.2" y="230.2" font-size="13.2" text-anchor="end" fill="#222"  textLength="15.5" lengthAdjust="spacingAndGlyphs">2.5</text>
<text transform="translate(417.2 128.7) rotate(-90)" font-size="13" letter-spacing="0.4" text-anchor="middle" fill="#222" >Times (s)</text>
<text x="445.5" y="28.0" font-size="12.8" text-anchor="middle" fill="#222"  >1.0</text>
<text x="466.5" y="28.0" font-size="12.8" text-anchor="middle" fill="#222"  >2.0</text>
<text x="491.0" y="28.0" font-size="12.8" text-anchor="middle" fill="#222"  >3.0</text>
<text x="515.5" y="28.0" font-size="12.8" text-anchor="middle" fill="#222"  >4.0</text>
<text x="540.0" y="28.0" font-size="12.8" text-anchor="middle" fill="#222"  >5.0</text>
<text x="491.0" y="13.0" font-size="12.2" text-anchor="middle" fill="#222"  letter-spacing="0.2">Velocity (km/s)</text>
<text x="489.4" y="243.6" font-size="12.5" text-anchor="middle" fill="#222"  letter-spacing="0.3">(d)</text>
</svg>
</body></html>
